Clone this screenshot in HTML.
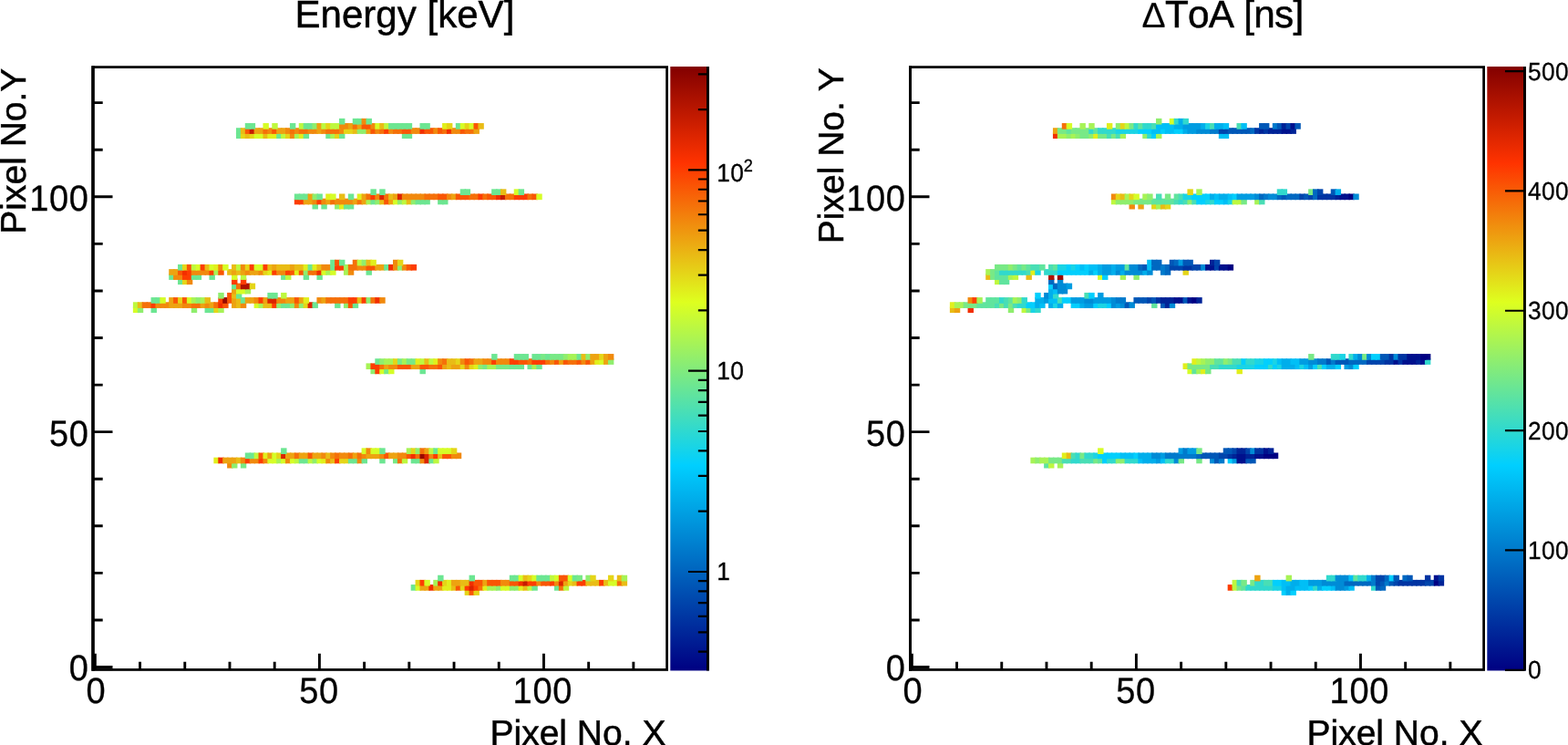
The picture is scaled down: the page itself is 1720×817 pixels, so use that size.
<!DOCTYPE html>
<html lang="en">
<head>
<meta charset="utf-8">
<title>Energy [keV] and ΔToA [ns] pixel maps</title>
<style>
html,body{margin:0;padding:0;background:#fff;}
body{width:1720px;height:817px;overflow:hidden;}
svg{display:block;position:absolute;left:0;top:0;}
text{font-family:"Liberation Sans",Arial,Helvetica,sans-serif;fill:#000;font-kerning:none;text-rendering:geometricPrecision;stroke:#000;stroke-width:0.3px;}
.b{stroke-width:0.5px;}
</style>
</head>
<body>
<svg width="1720" height="817" viewBox="0 0 1720 817">
<rect width="1720" height="817" fill="#fff"/>
<g>
<rect x="509.64" y="646.23" width="6.42" height="6.66" fill="#e5d518"/>
<rect x="514.56" y="646.23" width="6.42" height="6.66" fill="#f95605"/>
<rect x="519.48" y="646.23" width="6.42" height="6.66" fill="#e5d518"/>
<rect x="450.66" y="641.07" width="6.42" height="6.66" fill="#6ce692"/>
<rect x="455.57" y="641.07" width="6.42" height="6.66" fill="#d6fd27"/>
<rect x="460.49" y="641.07" width="6.42" height="6.66" fill="#eda311"/>
<rect x="465.4" y="641.07" width="6.42" height="6.66" fill="#eda311"/>
<rect x="470.32" y="641.07" width="6.42" height="6.66" fill="#f22e00"/>
<rect x="475.24" y="641.07" width="6.42" height="6.66" fill="#eda311"/>
<rect x="480.15" y="641.07" width="6.42" height="6.66" fill="#eda311"/>
<rect x="485.07" y="641.07" width="6.42" height="6.66" fill="#e1ef1c"/>
<rect x="489.98" y="641.07" width="6.42" height="6.66" fill="#e1ef1c"/>
<rect x="494.9" y="641.07" width="6.42" height="6.66" fill="#e9bc15"/>
<rect x="499.81" y="641.07" width="6.42" height="6.66" fill="#f95605"/>
<rect x="504.73" y="641.07" width="6.42" height="6.66" fill="#e5d518"/>
<rect x="509.64" y="641.07" width="6.42" height="6.66" fill="#fd3d02"/>
<rect x="514.56" y="641.07" width="6.42" height="6.66" fill="#db2400"/>
<rect x="519.48" y="641.07" width="6.42" height="6.66" fill="#fd3d02"/>
<rect x="524.39" y="641.07" width="6.42" height="6.66" fill="#f57009"/>
<rect x="529.31" y="641.07" width="6.42" height="6.66" fill="#e1ef1c"/>
<rect x="534.22" y="641.07" width="6.42" height="6.66" fill="#a7f356"/>
<rect x="539.14" y="641.07" width="6.42" height="6.66" fill="#a7f356"/>
<rect x="544.05" y="641.07" width="6.42" height="6.66" fill="#8fee6e"/>
<rect x="548.97" y="641.07" width="6.42" height="6.66" fill="#d6fd27"/>
<rect x="553.89" y="641.07" width="6.42" height="6.66" fill="#d6fd27"/>
<rect x="558.8" y="641.07" width="6.42" height="6.66" fill="#8fee6e"/>
<rect x="563.72" y="641.07" width="6.42" height="6.66" fill="#8fee6e"/>
<rect x="568.63" y="641.07" width="6.42" height="6.66" fill="#e1ef1c"/>
<rect x="573.55" y="641.07" width="6.42" height="6.66" fill="#e9bc15"/>
<rect x="578.46" y="641.07" width="6.42" height="6.66" fill="#bef83f"/>
<rect x="583.38" y="641.07" width="6.42" height="6.66" fill="#6ce692"/>
<rect x="607.96" y="641.07" width="6.42" height="6.66" fill="#6ce692"/>
<rect x="612.87" y="641.07" width="6.42" height="6.66" fill="#f57009"/>
<rect x="617.79" y="641.07" width="6.42" height="6.66" fill="#bef83f"/>
<rect x="455.57" y="635.9" width="6.42" height="6.66" fill="#e5d518"/>
<rect x="460.49" y="635.9" width="6.42" height="6.66" fill="#fd3d02"/>
<rect x="465.4" y="635.9" width="6.42" height="6.66" fill="#d6fd27"/>
<rect x="475.24" y="635.9" width="6.42" height="6.66" fill="#a7f356"/>
<rect x="480.15" y="635.9" width="6.42" height="6.66" fill="#f22e00"/>
<rect x="485.07" y="635.9" width="6.42" height="6.66" fill="#e5d518"/>
<rect x="489.98" y="635.9" width="6.42" height="6.66" fill="#e1ef1c"/>
<rect x="494.9" y="635.9" width="6.42" height="6.66" fill="#eda311"/>
<rect x="499.81" y="635.9" width="6.42" height="6.66" fill="#eda311"/>
<rect x="504.73" y="635.9" width="6.42" height="6.66" fill="#e9bc15"/>
<rect x="509.64" y="635.9" width="6.42" height="6.66" fill="#e9bc15"/>
<rect x="514.56" y="635.9" width="6.42" height="6.66" fill="#f22e00"/>
<rect x="519.48" y="635.9" width="6.42" height="6.66" fill="#f95605"/>
<rect x="524.39" y="635.9" width="6.42" height="6.66" fill="#f95605"/>
<rect x="529.31" y="635.9" width="6.42" height="6.66" fill="#eda311"/>
<rect x="534.22" y="635.9" width="6.42" height="6.66" fill="#f95605"/>
<rect x="539.14" y="635.9" width="6.42" height="6.66" fill="#f95605"/>
<rect x="544.05" y="635.9" width="6.42" height="6.66" fill="#f95605"/>
<rect x="548.97" y="635.9" width="6.42" height="6.66" fill="#f1890d"/>
<rect x="553.89" y="635.9" width="6.42" height="6.66" fill="#f1890d"/>
<rect x="558.8" y="635.9" width="6.42" height="6.66" fill="#f95605"/>
<rect x="563.72" y="635.9" width="6.42" height="6.66" fill="#f95605"/>
<rect x="568.63" y="635.9" width="6.42" height="6.66" fill="#f22e00"/>
<rect x="573.55" y="635.9" width="6.42" height="6.66" fill="#c51b00"/>
<rect x="578.46" y="635.9" width="6.42" height="6.66" fill="#fd3d02"/>
<rect x="583.38" y="635.9" width="6.42" height="6.66" fill="#fd3d02"/>
<rect x="588.29" y="635.9" width="6.42" height="6.66" fill="#f1890d"/>
<rect x="593.21" y="635.9" width="6.42" height="6.66" fill="#f95605"/>
<rect x="598.13" y="635.9" width="6.42" height="6.66" fill="#f95605"/>
<rect x="603.04" y="635.9" width="6.42" height="6.66" fill="#fd3d02"/>
<rect x="607.96" y="635.9" width="6.42" height="6.66" fill="#f1890d"/>
<rect x="612.87" y="635.9" width="6.42" height="6.66" fill="#db2400"/>
<rect x="617.79" y="635.9" width="6.42" height="6.66" fill="#eda311"/>
<rect x="622.7" y="635.9" width="6.42" height="6.66" fill="#e5d518"/>
<rect x="627.62" y="635.9" width="6.42" height="6.66" fill="#e9bc15"/>
<rect x="632.53" y="635.9" width="6.42" height="6.66" fill="#fd3d02"/>
<rect x="637.45" y="635.9" width="6.42" height="6.66" fill="#fd3d02"/>
<rect x="642.37" y="635.9" width="6.42" height="6.66" fill="#e9bc15"/>
<rect x="647.28" y="635.9" width="6.42" height="6.66" fill="#e9bc15"/>
<rect x="652.2" y="635.9" width="6.42" height="6.66" fill="#e9bc15"/>
<rect x="657.11" y="635.9" width="6.42" height="6.66" fill="#fd3d02"/>
<rect x="662.03" y="635.9" width="6.42" height="6.66" fill="#e9bc15"/>
<rect x="666.94" y="635.9" width="6.42" height="6.66" fill="#d6fd27"/>
<rect x="671.86" y="635.9" width="6.42" height="6.66" fill="#d6fd27"/>
<rect x="676.78" y="635.9" width="6.42" height="6.66" fill="#f57009"/>
<rect x="681.69" y="635.9" width="6.42" height="6.66" fill="#e9bc15"/>
<rect x="480.15" y="630.74" width="6.42" height="6.66" fill="#6ce692"/>
<rect x="514.56" y="630.74" width="6.42" height="6.66" fill="#6ce692"/>
<rect x="558.8" y="630.74" width="6.42" height="6.66" fill="#6ce692"/>
<rect x="563.72" y="630.74" width="6.42" height="6.66" fill="#6ce692"/>
<rect x="568.63" y="630.74" width="6.42" height="6.66" fill="#d6fd27"/>
<rect x="573.55" y="630.74" width="6.42" height="6.66" fill="#e9bc15"/>
<rect x="578.46" y="630.74" width="6.42" height="6.66" fill="#e5d518"/>
<rect x="583.38" y="630.74" width="6.42" height="6.66" fill="#d6fd27"/>
<rect x="588.29" y="630.74" width="6.42" height="6.66" fill="#6ce692"/>
<rect x="593.21" y="630.74" width="6.42" height="6.66" fill="#6ce692"/>
<rect x="598.13" y="630.74" width="6.42" height="6.66" fill="#6ce692"/>
<rect x="603.04" y="630.74" width="6.42" height="6.66" fill="#bef83f"/>
<rect x="607.96" y="630.74" width="6.42" height="6.66" fill="#d6fd27"/>
<rect x="612.87" y="630.74" width="6.42" height="6.66" fill="#f95605"/>
<rect x="617.79" y="630.74" width="6.42" height="6.66" fill="#f95605"/>
<rect x="622.7" y="630.74" width="6.42" height="6.66" fill="#d6fd27"/>
<rect x="627.62" y="630.74" width="6.42" height="6.66" fill="#6ce692"/>
<rect x="632.53" y="630.74" width="6.42" height="6.66" fill="#78e986"/>
<rect x="642.37" y="630.74" width="6.42" height="6.66" fill="#8fee6e"/>
<rect x="647.28" y="630.74" width="6.42" height="6.66" fill="#e5d518"/>
<rect x="666.94" y="630.74" width="6.42" height="6.66" fill="#e5d518"/>
<rect x="676.78" y="630.74" width="6.42" height="6.66" fill="#e9bc15"/>
<rect x="681.69" y="630.74" width="6.42" height="6.66" fill="#a7f356"/>
<rect x="249.12" y="506.82" width="6.42" height="6.66" fill="#f1890d"/>
<rect x="254.03" y="506.82" width="6.42" height="6.66" fill="#8fee6e"/>
<rect x="263.86" y="506.82" width="6.42" height="6.66" fill="#78e986"/>
<rect x="234.37" y="501.65" width="6.42" height="6.66" fill="#e1ef1c"/>
<rect x="239.29" y="501.65" width="6.42" height="6.66" fill="#f22e00"/>
<rect x="244.2" y="501.65" width="6.42" height="6.66" fill="#eda311"/>
<rect x="249.12" y="501.65" width="6.42" height="6.66" fill="#eda311"/>
<rect x="254.03" y="501.65" width="6.42" height="6.66" fill="#eda311"/>
<rect x="258.95" y="501.65" width="6.42" height="6.66" fill="#e9bc15"/>
<rect x="263.86" y="501.65" width="6.42" height="6.66" fill="#f1890d"/>
<rect x="268.78" y="501.65" width="6.42" height="6.66" fill="#fd3d02"/>
<rect x="273.7" y="501.65" width="6.42" height="6.66" fill="#f1890d"/>
<rect x="278.61" y="501.65" width="6.42" height="6.66" fill="#f1890d"/>
<rect x="283.53" y="501.65" width="6.42" height="6.66" fill="#fd3d02"/>
<rect x="288.44" y="501.65" width="6.42" height="6.66" fill="#f1890d"/>
<rect x="293.36" y="501.65" width="6.42" height="6.66" fill="#d6fd27"/>
<rect x="298.27" y="501.65" width="6.42" height="6.66" fill="#d6fd27"/>
<rect x="303.19" y="501.65" width="6.42" height="6.66" fill="#a7f356"/>
<rect x="308.11" y="501.65" width="6.42" height="6.66" fill="#d6fd27"/>
<rect x="313.02" y="501.65" width="6.42" height="6.66" fill="#f1890d"/>
<rect x="317.94" y="501.65" width="6.42" height="6.66" fill="#d6fd27"/>
<rect x="322.85" y="501.65" width="6.42" height="6.66" fill="#bef83f"/>
<rect x="327.77" y="501.65" width="6.42" height="6.66" fill="#6ce692"/>
<rect x="332.68" y="501.65" width="6.42" height="6.66" fill="#6ce692"/>
<rect x="337.6" y="501.65" width="6.42" height="6.66" fill="#bef83f"/>
<rect x="342.51" y="501.65" width="6.42" height="6.66" fill="#8fee6e"/>
<rect x="347.43" y="501.65" width="6.42" height="6.66" fill="#d6fd27"/>
<rect x="352.35" y="501.65" width="6.42" height="6.66" fill="#e1ef1c"/>
<rect x="357.26" y="501.65" width="6.42" height="6.66" fill="#f1890d"/>
<rect x="362.18" y="501.65" width="6.42" height="6.66" fill="#e9bc15"/>
<rect x="367.09" y="501.65" width="6.42" height="6.66" fill="#fd3d02"/>
<rect x="372.01" y="501.65" width="6.42" height="6.66" fill="#e5d518"/>
<rect x="376.92" y="501.65" width="6.42" height="6.66" fill="#e5d518"/>
<rect x="381.84" y="501.65" width="6.42" height="6.66" fill="#6ce692"/>
<rect x="386.75" y="501.65" width="6.42" height="6.66" fill="#6ce692"/>
<rect x="391.67" y="501.65" width="6.42" height="6.66" fill="#f1890d"/>
<rect x="396.59" y="501.65" width="6.42" height="6.66" fill="#6ce692"/>
<rect x="416.25" y="501.65" width="6.42" height="6.66" fill="#6ce692"/>
<rect x="431" y="501.65" width="6.42" height="6.66" fill="#78e986"/>
<rect x="435.91" y="501.65" width="6.42" height="6.66" fill="#f57009"/>
<rect x="440.83" y="501.65" width="6.42" height="6.66" fill="#bef83f"/>
<rect x="450.66" y="501.65" width="6.42" height="6.66" fill="#6ce692"/>
<rect x="455.57" y="501.65" width="6.42" height="6.66" fill="#6ce692"/>
<rect x="460.49" y="501.65" width="6.42" height="6.66" fill="#f1890d"/>
<rect x="465.4" y="501.65" width="6.42" height="6.66" fill="#db2400"/>
<rect x="470.32" y="501.65" width="6.42" height="6.66" fill="#6ce692"/>
<rect x="475.24" y="501.65" width="6.42" height="6.66" fill="#bef83f"/>
<rect x="268.78" y="496.49" width="6.42" height="6.66" fill="#6ce692"/>
<rect x="273.7" y="496.49" width="6.42" height="6.66" fill="#6ce692"/>
<rect x="278.61" y="496.49" width="6.42" height="6.66" fill="#bef83f"/>
<rect x="283.53" y="496.49" width="6.42" height="6.66" fill="#f95605"/>
<rect x="288.44" y="496.49" width="6.42" height="6.66" fill="#e1ef1c"/>
<rect x="293.36" y="496.49" width="6.42" height="6.66" fill="#eda311"/>
<rect x="298.27" y="496.49" width="6.42" height="6.66" fill="#d6fd27"/>
<rect x="303.19" y="496.49" width="6.42" height="6.66" fill="#e5d518"/>
<rect x="308.11" y="496.49" width="6.42" height="6.66" fill="#db2400"/>
<rect x="313.02" y="496.49" width="6.42" height="6.66" fill="#eda311"/>
<rect x="317.94" y="496.49" width="6.42" height="6.66" fill="#eda311"/>
<rect x="322.85" y="496.49" width="6.42" height="6.66" fill="#f57009"/>
<rect x="327.77" y="496.49" width="6.42" height="6.66" fill="#eda311"/>
<rect x="332.68" y="496.49" width="6.42" height="6.66" fill="#eda311"/>
<rect x="337.6" y="496.49" width="6.42" height="6.66" fill="#f95605"/>
<rect x="342.51" y="496.49" width="6.42" height="6.66" fill="#eda311"/>
<rect x="347.43" y="496.49" width="6.42" height="6.66" fill="#eda311"/>
<rect x="352.35" y="496.49" width="6.42" height="6.66" fill="#f1890d"/>
<rect x="357.26" y="496.49" width="6.42" height="6.66" fill="#e9bc15"/>
<rect x="362.18" y="496.49" width="6.42" height="6.66" fill="#f1890d"/>
<rect x="367.09" y="496.49" width="6.42" height="6.66" fill="#f57009"/>
<rect x="372.01" y="496.49" width="6.42" height="6.66" fill="#f1890d"/>
<rect x="376.92" y="496.49" width="6.42" height="6.66" fill="#f1890d"/>
<rect x="381.84" y="496.49" width="6.42" height="6.66" fill="#f57009"/>
<rect x="386.75" y="496.49" width="6.42" height="6.66" fill="#eda311"/>
<rect x="391.67" y="496.49" width="6.42" height="6.66" fill="#f57009"/>
<rect x="396.59" y="496.49" width="6.42" height="6.66" fill="#f1890d"/>
<rect x="401.5" y="496.49" width="6.42" height="6.66" fill="#eda311"/>
<rect x="406.42" y="496.49" width="6.42" height="6.66" fill="#eda311"/>
<rect x="411.33" y="496.49" width="6.42" height="6.66" fill="#eda311"/>
<rect x="416.25" y="496.49" width="6.42" height="6.66" fill="#f1890d"/>
<rect x="421.16" y="496.49" width="6.42" height="6.66" fill="#f95605"/>
<rect x="426.08" y="496.49" width="6.42" height="6.66" fill="#eda311"/>
<rect x="431" y="496.49" width="6.42" height="6.66" fill="#eda311"/>
<rect x="435.91" y="496.49" width="6.42" height="6.66" fill="#f1890d"/>
<rect x="440.83" y="496.49" width="6.42" height="6.66" fill="#f1890d"/>
<rect x="445.74" y="496.49" width="6.42" height="6.66" fill="#f95605"/>
<rect x="450.66" y="496.49" width="6.42" height="6.66" fill="#f22e00"/>
<rect x="455.57" y="496.49" width="6.42" height="6.66" fill="#f57009"/>
<rect x="460.49" y="496.49" width="6.42" height="6.66" fill="#980900"/>
<rect x="465.4" y="496.49" width="6.42" height="6.66" fill="#db2400"/>
<rect x="470.32" y="496.49" width="6.42" height="6.66" fill="#f1890d"/>
<rect x="475.24" y="496.49" width="6.42" height="6.66" fill="#fd3d02"/>
<rect x="480.15" y="496.49" width="6.42" height="6.66" fill="#e9bc15"/>
<rect x="485.07" y="496.49" width="6.42" height="6.66" fill="#f95605"/>
<rect x="489.98" y="496.49" width="6.42" height="6.66" fill="#f95605"/>
<rect x="494.9" y="496.49" width="6.42" height="6.66" fill="#f1890d"/>
<rect x="499.81" y="496.49" width="6.42" height="6.66" fill="#f1890d"/>
<rect x="308.11" y="491.33" width="6.42" height="6.66" fill="#6ce692"/>
<rect x="396.59" y="491.33" width="6.42" height="6.66" fill="#d6fd27"/>
<rect x="401.5" y="491.33" width="6.42" height="6.66" fill="#f1890d"/>
<rect x="406.42" y="491.33" width="6.42" height="6.66" fill="#d6fd27"/>
<rect x="411.33" y="491.33" width="6.42" height="6.66" fill="#d6fd27"/>
<rect x="416.25" y="491.33" width="6.42" height="6.66" fill="#6ce692"/>
<rect x="445.74" y="491.33" width="6.42" height="6.66" fill="#a7f356"/>
<rect x="450.66" y="491.33" width="6.42" height="6.66" fill="#e5d518"/>
<rect x="455.57" y="491.33" width="6.42" height="6.66" fill="#8fee6e"/>
<rect x="460.49" y="491.33" width="6.42" height="6.66" fill="#f57009"/>
<rect x="465.4" y="491.33" width="6.42" height="6.66" fill="#eda311"/>
<rect x="470.32" y="491.33" width="6.42" height="6.66" fill="#bef83f"/>
<rect x="475.24" y="491.33" width="6.42" height="6.66" fill="#6ce692"/>
<rect x="480.15" y="491.33" width="6.42" height="6.66" fill="#d6fd27"/>
<rect x="485.07" y="491.33" width="6.42" height="6.66" fill="#d6fd27"/>
<rect x="489.98" y="491.33" width="6.42" height="6.66" fill="#d6fd27"/>
<rect x="494.9" y="491.33" width="6.42" height="6.66" fill="#e5d518"/>
<rect x="406.42" y="403.55" width="6.42" height="6.66" fill="#8fee6e"/>
<rect x="411.33" y="403.55" width="6.42" height="6.66" fill="#fd3d02"/>
<rect x="416.25" y="403.55" width="6.42" height="6.66" fill="#d6fd27"/>
<rect x="421.16" y="403.55" width="6.42" height="6.66" fill="#78e986"/>
<rect x="426.08" y="403.55" width="6.42" height="6.66" fill="#d6fd27"/>
<rect x="460.49" y="403.55" width="6.42" height="6.66" fill="#6ce692"/>
<rect x="401.5" y="398.38" width="6.42" height="6.66" fill="#a7f356"/>
<rect x="406.42" y="398.38" width="6.42" height="6.66" fill="#fd3d02"/>
<rect x="411.33" y="398.38" width="6.42" height="6.66" fill="#fd3d02"/>
<rect x="416.25" y="398.38" width="6.42" height="6.66" fill="#f57009"/>
<rect x="421.16" y="398.38" width="6.42" height="6.66" fill="#eda311"/>
<rect x="426.08" y="398.38" width="6.42" height="6.66" fill="#f1890d"/>
<rect x="431" y="398.38" width="6.42" height="6.66" fill="#f1890d"/>
<rect x="435.91" y="398.38" width="6.42" height="6.66" fill="#f95605"/>
<rect x="440.83" y="398.38" width="6.42" height="6.66" fill="#f95605"/>
<rect x="445.74" y="398.38" width="6.42" height="6.66" fill="#f95605"/>
<rect x="450.66" y="398.38" width="6.42" height="6.66" fill="#eda311"/>
<rect x="455.57" y="398.38" width="6.42" height="6.66" fill="#eda311"/>
<rect x="460.49" y="398.38" width="6.42" height="6.66" fill="#f95605"/>
<rect x="465.4" y="398.38" width="6.42" height="6.66" fill="#f95605"/>
<rect x="470.32" y="398.38" width="6.42" height="6.66" fill="#f57009"/>
<rect x="475.24" y="398.38" width="6.42" height="6.66" fill="#f57009"/>
<rect x="480.15" y="398.38" width="6.42" height="6.66" fill="#f95605"/>
<rect x="485.07" y="398.38" width="6.42" height="6.66" fill="#eda311"/>
<rect x="489.98" y="398.38" width="6.42" height="6.66" fill="#e9bc15"/>
<rect x="494.9" y="398.38" width="6.42" height="6.66" fill="#eda311"/>
<rect x="499.81" y="398.38" width="6.42" height="6.66" fill="#eda311"/>
<rect x="504.73" y="398.38" width="6.42" height="6.66" fill="#e5d518"/>
<rect x="509.64" y="398.38" width="6.42" height="6.66" fill="#f1890d"/>
<rect x="514.56" y="398.38" width="6.42" height="6.66" fill="#e5d518"/>
<rect x="519.48" y="398.38" width="6.42" height="6.66" fill="#e1ef1c"/>
<rect x="524.39" y="398.38" width="6.42" height="6.66" fill="#8fee6e"/>
<rect x="529.31" y="398.38" width="6.42" height="6.66" fill="#78e986"/>
<rect x="534.22" y="398.38" width="6.42" height="6.66" fill="#a7f356"/>
<rect x="539.14" y="398.38" width="6.42" height="6.66" fill="#a7f356"/>
<rect x="544.05" y="398.38" width="6.42" height="6.66" fill="#78e986"/>
<rect x="548.97" y="398.38" width="6.42" height="6.66" fill="#78e986"/>
<rect x="553.89" y="398.38" width="6.42" height="6.66" fill="#78e986"/>
<rect x="558.8" y="398.38" width="6.42" height="6.66" fill="#6ce692"/>
<rect x="563.72" y="398.38" width="6.42" height="6.66" fill="#6ce692"/>
<rect x="568.63" y="398.38" width="6.42" height="6.66" fill="#6ce692"/>
<rect x="578.46" y="398.38" width="6.42" height="6.66" fill="#6ce692"/>
<rect x="583.38" y="398.38" width="6.42" height="6.66" fill="#a7f356"/>
<rect x="588.29" y="398.38" width="6.42" height="6.66" fill="#6ce692"/>
<rect x="411.33" y="393.22" width="6.42" height="6.66" fill="#6ce692"/>
<rect x="416.25" y="393.22" width="6.42" height="6.66" fill="#8fee6e"/>
<rect x="421.16" y="393.22" width="6.42" height="6.66" fill="#a7f356"/>
<rect x="426.08" y="393.22" width="6.42" height="6.66" fill="#a7f356"/>
<rect x="431" y="393.22" width="6.42" height="6.66" fill="#e5d518"/>
<rect x="435.91" y="393.22" width="6.42" height="6.66" fill="#78e986"/>
<rect x="440.83" y="393.22" width="6.42" height="6.66" fill="#a7f356"/>
<rect x="445.74" y="393.22" width="6.42" height="6.66" fill="#78e986"/>
<rect x="450.66" y="393.22" width="6.42" height="6.66" fill="#78e986"/>
<rect x="455.57" y="393.22" width="6.42" height="6.66" fill="#e1ef1c"/>
<rect x="460.49" y="393.22" width="6.42" height="6.66" fill="#bef83f"/>
<rect x="465.4" y="393.22" width="6.42" height="6.66" fill="#e9bc15"/>
<rect x="470.32" y="393.22" width="6.42" height="6.66" fill="#bef83f"/>
<rect x="475.24" y="393.22" width="6.42" height="6.66" fill="#e1ef1c"/>
<rect x="480.15" y="393.22" width="6.42" height="6.66" fill="#f1890d"/>
<rect x="485.07" y="393.22" width="6.42" height="6.66" fill="#f57009"/>
<rect x="489.98" y="393.22" width="6.42" height="6.66" fill="#e9bc15"/>
<rect x="494.9" y="393.22" width="6.42" height="6.66" fill="#e9bc15"/>
<rect x="499.81" y="393.22" width="6.42" height="6.66" fill="#e5d518"/>
<rect x="504.73" y="393.22" width="6.42" height="6.66" fill="#f1890d"/>
<rect x="509.64" y="393.22" width="6.42" height="6.66" fill="#f95605"/>
<rect x="514.56" y="393.22" width="6.42" height="6.66" fill="#f57009"/>
<rect x="519.48" y="393.22" width="6.42" height="6.66" fill="#eda311"/>
<rect x="524.39" y="393.22" width="6.42" height="6.66" fill="#eda311"/>
<rect x="529.31" y="393.22" width="6.42" height="6.66" fill="#f1890d"/>
<rect x="534.22" y="393.22" width="6.42" height="6.66" fill="#f1890d"/>
<rect x="539.14" y="393.22" width="6.42" height="6.66" fill="#fd3d02"/>
<rect x="544.05" y="393.22" width="6.42" height="6.66" fill="#f1890d"/>
<rect x="548.97" y="393.22" width="6.42" height="6.66" fill="#f1890d"/>
<rect x="553.89" y="393.22" width="6.42" height="6.66" fill="#f1890d"/>
<rect x="558.8" y="393.22" width="6.42" height="6.66" fill="#fd3d02"/>
<rect x="563.72" y="393.22" width="6.42" height="6.66" fill="#fd3d02"/>
<rect x="568.63" y="393.22" width="6.42" height="6.66" fill="#f95605"/>
<rect x="573.55" y="393.22" width="6.42" height="6.66" fill="#f95605"/>
<rect x="578.46" y="393.22" width="6.42" height="6.66" fill="#f57009"/>
<rect x="583.38" y="393.22" width="6.42" height="6.66" fill="#fd3d02"/>
<rect x="588.29" y="393.22" width="6.42" height="6.66" fill="#fd3d02"/>
<rect x="593.21" y="393.22" width="6.42" height="6.66" fill="#fd3d02"/>
<rect x="598.13" y="393.22" width="6.42" height="6.66" fill="#f57009"/>
<rect x="603.04" y="393.22" width="6.42" height="6.66" fill="#f1890d"/>
<rect x="607.96" y="393.22" width="6.42" height="6.66" fill="#f95605"/>
<rect x="612.87" y="393.22" width="6.42" height="6.66" fill="#eda311"/>
<rect x="617.79" y="393.22" width="6.42" height="6.66" fill="#f95605"/>
<rect x="622.7" y="393.22" width="6.42" height="6.66" fill="#f57009"/>
<rect x="627.62" y="393.22" width="6.42" height="6.66" fill="#f57009"/>
<rect x="632.53" y="393.22" width="6.42" height="6.66" fill="#f95605"/>
<rect x="637.45" y="393.22" width="6.42" height="6.66" fill="#f1890d"/>
<rect x="642.37" y="393.22" width="6.42" height="6.66" fill="#f95605"/>
<rect x="647.28" y="393.22" width="6.42" height="6.66" fill="#eda311"/>
<rect x="652.2" y="393.22" width="6.42" height="6.66" fill="#e1ef1c"/>
<rect x="657.11" y="393.22" width="6.42" height="6.66" fill="#d6fd27"/>
<rect x="662.03" y="393.22" width="6.42" height="6.66" fill="#eda311"/>
<rect x="666.94" y="393.22" width="6.42" height="6.66" fill="#8fee6e"/>
<rect x="539.14" y="388.06" width="6.42" height="6.66" fill="#6ce692"/>
<rect x="563.72" y="388.06" width="6.42" height="6.66" fill="#6ce692"/>
<rect x="568.63" y="388.06" width="6.42" height="6.66" fill="#6ce692"/>
<rect x="573.55" y="388.06" width="6.42" height="6.66" fill="#6ce692"/>
<rect x="583.38" y="388.06" width="6.42" height="6.66" fill="#6ce692"/>
<rect x="588.29" y="388.06" width="6.42" height="6.66" fill="#6ce692"/>
<rect x="593.21" y="388.06" width="6.42" height="6.66" fill="#78e986"/>
<rect x="598.13" y="388.06" width="6.42" height="6.66" fill="#6ce692"/>
<rect x="603.04" y="388.06" width="6.42" height="6.66" fill="#78e986"/>
<rect x="607.96" y="388.06" width="6.42" height="6.66" fill="#78e986"/>
<rect x="612.87" y="388.06" width="6.42" height="6.66" fill="#78e986"/>
<rect x="617.79" y="388.06" width="6.42" height="6.66" fill="#8fee6e"/>
<rect x="622.7" y="388.06" width="6.42" height="6.66" fill="#a7f356"/>
<rect x="627.62" y="388.06" width="6.42" height="6.66" fill="#a7f356"/>
<rect x="632.53" y="388.06" width="6.42" height="6.66" fill="#6ce692"/>
<rect x="637.45" y="388.06" width="6.42" height="6.66" fill="#e9bc15"/>
<rect x="642.37" y="388.06" width="6.42" height="6.66" fill="#8fee6e"/>
<rect x="647.28" y="388.06" width="6.42" height="6.66" fill="#eda311"/>
<rect x="652.2" y="388.06" width="6.42" height="6.66" fill="#eda311"/>
<rect x="657.11" y="388.06" width="6.42" height="6.66" fill="#e5d518"/>
<rect x="662.03" y="388.06" width="6.42" height="6.66" fill="#eda311"/>
<rect x="666.94" y="388.06" width="6.42" height="6.66" fill="#f1890d"/>
<rect x="145.89" y="336.42" width="6.42" height="6.66" fill="#d6fd27"/>
<rect x="150.81" y="336.42" width="6.42" height="6.66" fill="#8fee6e"/>
<rect x="165.55" y="336.42" width="6.42" height="6.66" fill="#6ce692"/>
<rect x="209.79" y="336.42" width="6.42" height="6.66" fill="#8fee6e"/>
<rect x="224.54" y="336.42" width="6.42" height="6.66" fill="#6ce692"/>
<rect x="229.46" y="336.42" width="6.42" height="6.66" fill="#6ce692"/>
<rect x="234.37" y="336.42" width="6.42" height="6.66" fill="#e5d518"/>
<rect x="239.29" y="336.42" width="6.42" height="6.66" fill="#a7f356"/>
<rect x="145.89" y="331.26" width="6.42" height="6.66" fill="#bef83f"/>
<rect x="150.81" y="331.26" width="6.42" height="6.66" fill="#e9bc15"/>
<rect x="155.72" y="331.26" width="6.42" height="6.66" fill="#f57009"/>
<rect x="160.64" y="331.26" width="6.42" height="6.66" fill="#f57009"/>
<rect x="165.55" y="331.26" width="6.42" height="6.66" fill="#fd3d02"/>
<rect x="170.47" y="331.26" width="6.42" height="6.66" fill="#f1890d"/>
<rect x="175.38" y="331.26" width="6.42" height="6.66" fill="#f1890d"/>
<rect x="180.3" y="331.26" width="6.42" height="6.66" fill="#f1890d"/>
<rect x="185.22" y="331.26" width="6.42" height="6.66" fill="#eda311"/>
<rect x="190.13" y="331.26" width="6.42" height="6.66" fill="#eda311"/>
<rect x="195.05" y="331.26" width="6.42" height="6.66" fill="#eda311"/>
<rect x="199.96" y="331.26" width="6.42" height="6.66" fill="#f1890d"/>
<rect x="204.88" y="331.26" width="6.42" height="6.66" fill="#f1890d"/>
<rect x="209.79" y="331.26" width="6.42" height="6.66" fill="#f57009"/>
<rect x="214.71" y="331.26" width="6.42" height="6.66" fill="#f57009"/>
<rect x="219.62" y="331.26" width="6.42" height="6.66" fill="#eda311"/>
<rect x="224.54" y="331.26" width="6.42" height="6.66" fill="#f1890d"/>
<rect x="229.46" y="331.26" width="6.42" height="6.66" fill="#eda311"/>
<rect x="234.37" y="331.26" width="6.42" height="6.66" fill="#f57009"/>
<rect x="239.29" y="331.26" width="6.42" height="6.66" fill="#f22e00"/>
<rect x="244.2" y="331.26" width="6.42" height="6.66" fill="#f95605"/>
<rect x="254.03" y="331.26" width="6.42" height="6.66" fill="#eda311"/>
<rect x="258.95" y="331.26" width="6.42" height="6.66" fill="#e9bc15"/>
<rect x="263.86" y="331.26" width="6.42" height="6.66" fill="#f1890d"/>
<rect x="278.61" y="331.26" width="6.42" height="6.66" fill="#d6fd27"/>
<rect x="283.53" y="331.26" width="6.42" height="6.66" fill="#a7f356"/>
<rect x="288.44" y="331.26" width="6.42" height="6.66" fill="#e9bc15"/>
<rect x="293.36" y="331.26" width="6.42" height="6.66" fill="#e9bc15"/>
<rect x="298.27" y="331.26" width="6.42" height="6.66" fill="#fd3d02"/>
<rect x="303.19" y="331.26" width="6.42" height="6.66" fill="#8fee6e"/>
<rect x="308.11" y="331.26" width="6.42" height="6.66" fill="#6ce692"/>
<rect x="313.02" y="331.26" width="6.42" height="6.66" fill="#6ce692"/>
<rect x="317.94" y="331.26" width="6.42" height="6.66" fill="#8fee6e"/>
<rect x="322.85" y="331.26" width="6.42" height="6.66" fill="#f1890d"/>
<rect x="327.77" y="331.26" width="6.42" height="6.66" fill="#8fee6e"/>
<rect x="332.68" y="331.26" width="6.42" height="6.66" fill="#e5d518"/>
<rect x="337.6" y="331.26" width="6.42" height="6.66" fill="#db2400"/>
<rect x="342.51" y="331.26" width="6.42" height="6.66" fill="#6ce692"/>
<rect x="367.09" y="331.26" width="6.42" height="6.66" fill="#6ce692"/>
<rect x="376.92" y="331.26" width="6.42" height="6.66" fill="#8fee6e"/>
<rect x="381.84" y="331.26" width="6.42" height="6.66" fill="#f95605"/>
<rect x="386.75" y="331.26" width="6.42" height="6.66" fill="#6ce692"/>
<rect x="165.55" y="326.09" width="6.42" height="6.66" fill="#6ce692"/>
<rect x="170.47" y="326.09" width="6.42" height="6.66" fill="#6ce692"/>
<rect x="175.38" y="326.09" width="6.42" height="6.66" fill="#d6fd27"/>
<rect x="185.22" y="326.09" width="6.42" height="6.66" fill="#eda311"/>
<rect x="190.13" y="326.09" width="6.42" height="6.66" fill="#f95605"/>
<rect x="195.05" y="326.09" width="6.42" height="6.66" fill="#e5d518"/>
<rect x="199.96" y="326.09" width="6.42" height="6.66" fill="#f95605"/>
<rect x="204.88" y="326.09" width="6.42" height="6.66" fill="#d6fd27"/>
<rect x="209.79" y="326.09" width="6.42" height="6.66" fill="#a7f356"/>
<rect x="214.71" y="326.09" width="6.42" height="6.66" fill="#8fee6e"/>
<rect x="219.62" y="326.09" width="6.42" height="6.66" fill="#a7f356"/>
<rect x="224.54" y="326.09" width="6.42" height="6.66" fill="#e9bc15"/>
<rect x="239.29" y="326.09" width="6.42" height="6.66" fill="#fd3d02"/>
<rect x="244.2" y="326.09" width="6.42" height="6.66" fill="#980900"/>
<rect x="249.12" y="326.09" width="6.42" height="6.66" fill="#f95605"/>
<rect x="254.03" y="326.09" width="6.42" height="6.66" fill="#eda311"/>
<rect x="258.95" y="326.09" width="6.42" height="6.66" fill="#e9bc15"/>
<rect x="263.86" y="326.09" width="6.42" height="6.66" fill="#6ce692"/>
<rect x="268.78" y="326.09" width="6.42" height="6.66" fill="#eda311"/>
<rect x="273.7" y="326.09" width="6.42" height="6.66" fill="#eda311"/>
<rect x="278.61" y="326.09" width="6.42" height="6.66" fill="#f1890d"/>
<rect x="283.53" y="326.09" width="6.42" height="6.66" fill="#fd3d02"/>
<rect x="288.44" y="326.09" width="6.42" height="6.66" fill="#eda311"/>
<rect x="293.36" y="326.09" width="6.42" height="6.66" fill="#db2400"/>
<rect x="298.27" y="326.09" width="6.42" height="6.66" fill="#db2400"/>
<rect x="303.19" y="326.09" width="6.42" height="6.66" fill="#f1890d"/>
<rect x="308.11" y="326.09" width="6.42" height="6.66" fill="#f1890d"/>
<rect x="313.02" y="326.09" width="6.42" height="6.66" fill="#eda311"/>
<rect x="317.94" y="326.09" width="6.42" height="6.66" fill="#eda311"/>
<rect x="322.85" y="326.09" width="6.42" height="6.66" fill="#f95605"/>
<rect x="327.77" y="326.09" width="6.42" height="6.66" fill="#eda311"/>
<rect x="332.68" y="326.09" width="6.42" height="6.66" fill="#e1ef1c"/>
<rect x="347.43" y="326.09" width="6.42" height="6.66" fill="#f1890d"/>
<rect x="352.35" y="326.09" width="6.42" height="6.66" fill="#eda311"/>
<rect x="357.26" y="326.09" width="6.42" height="6.66" fill="#f57009"/>
<rect x="362.18" y="326.09" width="6.42" height="6.66" fill="#f57009"/>
<rect x="367.09" y="326.09" width="6.42" height="6.66" fill="#f57009"/>
<rect x="372.01" y="326.09" width="6.42" height="6.66" fill="#f57009"/>
<rect x="376.92" y="326.09" width="6.42" height="6.66" fill="#f57009"/>
<rect x="381.84" y="326.09" width="6.42" height="6.66" fill="#fd3d02"/>
<rect x="386.75" y="326.09" width="6.42" height="6.66" fill="#fd3d02"/>
<rect x="391.67" y="326.09" width="6.42" height="6.66" fill="#e9bc15"/>
<rect x="396.59" y="326.09" width="6.42" height="6.66" fill="#fd3d02"/>
<rect x="401.5" y="326.09" width="6.42" height="6.66" fill="#8fee6e"/>
<rect x="406.42" y="326.09" width="6.42" height="6.66" fill="#f57009"/>
<rect x="411.33" y="326.09" width="6.42" height="6.66" fill="#f22e00"/>
<rect x="416.25" y="326.09" width="6.42" height="6.66" fill="#f1890d"/>
<rect x="239.29" y="320.93" width="6.42" height="6.66" fill="#8fee6e"/>
<rect x="249.12" y="320.93" width="6.42" height="6.66" fill="#f95605"/>
<rect x="254.03" y="320.93" width="6.42" height="6.66" fill="#e9bc15"/>
<rect x="258.95" y="320.93" width="6.42" height="6.66" fill="#6ce692"/>
<rect x="293.36" y="320.93" width="6.42" height="6.66" fill="#6ce692"/>
<rect x="298.27" y="320.93" width="6.42" height="6.66" fill="#6ce692"/>
<rect x="308.11" y="320.93" width="6.42" height="6.66" fill="#bef83f"/>
<rect x="254.03" y="315.77" width="6.42" height="6.66" fill="#eda311"/>
<rect x="258.95" y="315.77" width="6.42" height="6.66" fill="#d6fd27"/>
<rect x="263.86" y="315.77" width="6.42" height="6.66" fill="#d6fd27"/>
<rect x="268.78" y="315.77" width="6.42" height="6.66" fill="#a7f356"/>
<rect x="254.03" y="310.6" width="6.42" height="6.66" fill="#6ce692"/>
<rect x="258.95" y="310.6" width="6.42" height="6.66" fill="#f57009"/>
<rect x="263.86" y="310.6" width="6.42" height="6.66" fill="#af1200"/>
<rect x="268.78" y="310.6" width="6.42" height="6.66" fill="#af1200"/>
<rect x="273.7" y="310.6" width="6.42" height="6.66" fill="#e5d518"/>
<rect x="195.05" y="305.44" width="6.42" height="6.66" fill="#6ce692"/>
<rect x="199.96" y="305.44" width="6.42" height="6.66" fill="#e5d518"/>
<rect x="204.88" y="305.44" width="6.42" height="6.66" fill="#f1890d"/>
<rect x="254.03" y="305.44" width="6.42" height="6.66" fill="#fd3d02"/>
<rect x="263.86" y="305.44" width="6.42" height="6.66" fill="#fd3d02"/>
<rect x="185.22" y="300.28" width="6.42" height="6.66" fill="#6ce692"/>
<rect x="190.13" y="300.28" width="6.42" height="6.66" fill="#f1890d"/>
<rect x="195.05" y="300.28" width="6.42" height="6.66" fill="#f1890d"/>
<rect x="199.96" y="300.28" width="6.42" height="6.66" fill="#fd3d02"/>
<rect x="204.88" y="300.28" width="6.42" height="6.66" fill="#fd3d02"/>
<rect x="209.79" y="300.28" width="6.42" height="6.66" fill="#6ce692"/>
<rect x="214.71" y="300.28" width="6.42" height="6.66" fill="#6ce692"/>
<rect x="229.46" y="300.28" width="6.42" height="6.66" fill="#6ce692"/>
<rect x="254.03" y="300.28" width="6.42" height="6.66" fill="#d6fd27"/>
<rect x="263.86" y="300.28" width="6.42" height="6.66" fill="#bef83f"/>
<rect x="308.11" y="300.28" width="6.42" height="6.66" fill="#6ce692"/>
<rect x="313.02" y="300.28" width="6.42" height="6.66" fill="#bef83f"/>
<rect x="332.68" y="300.28" width="6.42" height="6.66" fill="#6ce692"/>
<rect x="347.43" y="300.28" width="6.42" height="6.66" fill="#6ce692"/>
<rect x="185.22" y="295.11" width="6.42" height="6.66" fill="#eda311"/>
<rect x="190.13" y="295.11" width="6.42" height="6.66" fill="#eda311"/>
<rect x="195.05" y="295.11" width="6.42" height="6.66" fill="#f95605"/>
<rect x="199.96" y="295.11" width="6.42" height="6.66" fill="#f22e00"/>
<rect x="204.88" y="295.11" width="6.42" height="6.66" fill="#fd3d02"/>
<rect x="209.79" y="295.11" width="6.42" height="6.66" fill="#f1890d"/>
<rect x="214.71" y="295.11" width="6.42" height="6.66" fill="#f1890d"/>
<rect x="219.62" y="295.11" width="6.42" height="6.66" fill="#f1890d"/>
<rect x="224.54" y="295.11" width="6.42" height="6.66" fill="#f1890d"/>
<rect x="229.46" y="295.11" width="6.42" height="6.66" fill="#fd3d02"/>
<rect x="234.37" y="295.11" width="6.42" height="6.66" fill="#a7f356"/>
<rect x="239.29" y="295.11" width="6.42" height="6.66" fill="#f95605"/>
<rect x="249.12" y="295.11" width="6.42" height="6.66" fill="#e9bc15"/>
<rect x="254.03" y="295.11" width="6.42" height="6.66" fill="#eda311"/>
<rect x="258.95" y="295.11" width="6.42" height="6.66" fill="#e9bc15"/>
<rect x="263.86" y="295.11" width="6.42" height="6.66" fill="#eda311"/>
<rect x="268.78" y="295.11" width="6.42" height="6.66" fill="#f1890d"/>
<rect x="273.7" y="295.11" width="6.42" height="6.66" fill="#eda311"/>
<rect x="278.61" y="295.11" width="6.42" height="6.66" fill="#eda311"/>
<rect x="283.53" y="295.11" width="6.42" height="6.66" fill="#f1890d"/>
<rect x="288.44" y="295.11" width="6.42" height="6.66" fill="#e5d518"/>
<rect x="293.36" y="295.11" width="6.42" height="6.66" fill="#e1ef1c"/>
<rect x="298.27" y="295.11" width="6.42" height="6.66" fill="#fd3d02"/>
<rect x="303.19" y="295.11" width="6.42" height="6.66" fill="#f1890d"/>
<rect x="308.11" y="295.11" width="6.42" height="6.66" fill="#f1890d"/>
<rect x="313.02" y="295.11" width="6.42" height="6.66" fill="#fd3d02"/>
<rect x="317.94" y="295.11" width="6.42" height="6.66" fill="#f95605"/>
<rect x="322.85" y="295.11" width="6.42" height="6.66" fill="#e1ef1c"/>
<rect x="327.77" y="295.11" width="6.42" height="6.66" fill="#f95605"/>
<rect x="332.68" y="295.11" width="6.42" height="6.66" fill="#8fee6e"/>
<rect x="337.6" y="295.11" width="6.42" height="6.66" fill="#f57009"/>
<rect x="342.51" y="295.11" width="6.42" height="6.66" fill="#f57009"/>
<rect x="347.43" y="295.11" width="6.42" height="6.66" fill="#f22e00"/>
<rect x="352.35" y="295.11" width="6.42" height="6.66" fill="#d6fd27"/>
<rect x="357.26" y="295.11" width="6.42" height="6.66" fill="#a7f356"/>
<rect x="362.18" y="295.11" width="6.42" height="6.66" fill="#d6fd27"/>
<rect x="376.92" y="295.11" width="6.42" height="6.66" fill="#a7f356"/>
<rect x="381.84" y="295.11" width="6.42" height="6.66" fill="#f1890d"/>
<rect x="401.5" y="295.11" width="6.42" height="6.66" fill="#6ce692"/>
<rect x="195.05" y="289.95" width="6.42" height="6.66" fill="#6ce692"/>
<rect x="199.96" y="289.95" width="6.42" height="6.66" fill="#e5d518"/>
<rect x="204.88" y="289.95" width="6.42" height="6.66" fill="#f95605"/>
<rect x="209.79" y="289.95" width="6.42" height="6.66" fill="#bef83f"/>
<rect x="214.71" y="289.95" width="6.42" height="6.66" fill="#d6fd27"/>
<rect x="219.62" y="289.95" width="6.42" height="6.66" fill="#fd3d02"/>
<rect x="224.54" y="289.95" width="6.42" height="6.66" fill="#e9bc15"/>
<rect x="229.46" y="289.95" width="6.42" height="6.66" fill="#d6fd27"/>
<rect x="234.37" y="289.95" width="6.42" height="6.66" fill="#e1ef1c"/>
<rect x="239.29" y="289.95" width="6.42" height="6.66" fill="#f1890d"/>
<rect x="244.2" y="289.95" width="6.42" height="6.66" fill="#d6fd27"/>
<rect x="254.03" y="289.95" width="6.42" height="6.66" fill="#e9bc15"/>
<rect x="258.95" y="289.95" width="6.42" height="6.66" fill="#bef83f"/>
<rect x="263.86" y="289.95" width="6.42" height="6.66" fill="#f1890d"/>
<rect x="268.78" y="289.95" width="6.42" height="6.66" fill="#e5d518"/>
<rect x="273.7" y="289.95" width="6.42" height="6.66" fill="#fd3d02"/>
<rect x="278.61" y="289.95" width="6.42" height="6.66" fill="#d6fd27"/>
<rect x="283.53" y="289.95" width="6.42" height="6.66" fill="#d6fd27"/>
<rect x="288.44" y="289.95" width="6.42" height="6.66" fill="#fd3d02"/>
<rect x="293.36" y="289.95" width="6.42" height="6.66" fill="#e9bc15"/>
<rect x="298.27" y="289.95" width="6.42" height="6.66" fill="#eda311"/>
<rect x="303.19" y="289.95" width="6.42" height="6.66" fill="#e9bc15"/>
<rect x="308.11" y="289.95" width="6.42" height="6.66" fill="#e9bc15"/>
<rect x="313.02" y="289.95" width="6.42" height="6.66" fill="#e9bc15"/>
<rect x="317.94" y="289.95" width="6.42" height="6.66" fill="#eda311"/>
<rect x="322.85" y="289.95" width="6.42" height="6.66" fill="#e9bc15"/>
<rect x="327.77" y="289.95" width="6.42" height="6.66" fill="#e9bc15"/>
<rect x="332.68" y="289.95" width="6.42" height="6.66" fill="#e1ef1c"/>
<rect x="337.6" y="289.95" width="6.42" height="6.66" fill="#6ce692"/>
<rect x="342.51" y="289.95" width="6.42" height="6.66" fill="#e1ef1c"/>
<rect x="347.43" y="289.95" width="6.42" height="6.66" fill="#e9bc15"/>
<rect x="352.35" y="289.95" width="6.42" height="6.66" fill="#f1890d"/>
<rect x="357.26" y="289.95" width="6.42" height="6.66" fill="#f1890d"/>
<rect x="362.18" y="289.95" width="6.42" height="6.66" fill="#6ce692"/>
<rect x="367.09" y="289.95" width="6.42" height="6.66" fill="#fd3d02"/>
<rect x="372.01" y="289.95" width="6.42" height="6.66" fill="#fd3d02"/>
<rect x="376.92" y="289.95" width="6.42" height="6.66" fill="#a7f356"/>
<rect x="381.84" y="289.95" width="6.42" height="6.66" fill="#f57009"/>
<rect x="386.75" y="289.95" width="6.42" height="6.66" fill="#f57009"/>
<rect x="391.67" y="289.95" width="6.42" height="6.66" fill="#f1890d"/>
<rect x="396.59" y="289.95" width="6.42" height="6.66" fill="#f1890d"/>
<rect x="401.5" y="289.95" width="6.42" height="6.66" fill="#f95605"/>
<rect x="406.42" y="289.95" width="6.42" height="6.66" fill="#f95605"/>
<rect x="411.33" y="289.95" width="6.42" height="6.66" fill="#eda311"/>
<rect x="416.25" y="289.95" width="6.42" height="6.66" fill="#eda311"/>
<rect x="421.16" y="289.95" width="6.42" height="6.66" fill="#6ce692"/>
<rect x="426.08" y="289.95" width="6.42" height="6.66" fill="#f22e00"/>
<rect x="431" y="289.95" width="6.42" height="6.66" fill="#f1890d"/>
<rect x="435.91" y="289.95" width="6.42" height="6.66" fill="#8fee6e"/>
<rect x="440.83" y="289.95" width="6.42" height="6.66" fill="#f1890d"/>
<rect x="445.74" y="289.95" width="6.42" height="6.66" fill="#f95605"/>
<rect x="450.66" y="289.95" width="6.42" height="6.66" fill="#fd3d02"/>
<rect x="362.18" y="284.79" width="6.42" height="6.66" fill="#6ce692"/>
<rect x="367.09" y="284.79" width="6.42" height="6.66" fill="#f95605"/>
<rect x="372.01" y="284.79" width="6.42" height="6.66" fill="#6ce692"/>
<rect x="386.75" y="284.79" width="6.42" height="6.66" fill="#f57009"/>
<rect x="391.67" y="284.79" width="6.42" height="6.66" fill="#bef83f"/>
<rect x="396.59" y="284.79" width="6.42" height="6.66" fill="#8fee6e"/>
<rect x="401.5" y="284.79" width="6.42" height="6.66" fill="#e9bc15"/>
<rect x="406.42" y="284.79" width="6.42" height="6.66" fill="#e1ef1c"/>
<rect x="431" y="284.79" width="6.42" height="6.66" fill="#f1890d"/>
<rect x="435.91" y="284.79" width="6.42" height="6.66" fill="#e5d518"/>
<rect x="342.51" y="222.82" width="6.42" height="6.66" fill="#6ce692"/>
<rect x="352.35" y="222.82" width="6.42" height="6.66" fill="#6ce692"/>
<rect x="367.09" y="222.82" width="6.42" height="6.66" fill="#8fee6e"/>
<rect x="372.01" y="222.82" width="6.42" height="6.66" fill="#e1ef1c"/>
<rect x="376.92" y="222.82" width="6.42" height="6.66" fill="#6ce692"/>
<rect x="381.84" y="222.82" width="6.42" height="6.66" fill="#6ce692"/>
<rect x="322.85" y="217.66" width="6.42" height="6.66" fill="#fd3d02"/>
<rect x="327.77" y="217.66" width="6.42" height="6.66" fill="#fd3d02"/>
<rect x="332.68" y="217.66" width="6.42" height="6.66" fill="#eda311"/>
<rect x="337.6" y="217.66" width="6.42" height="6.66" fill="#eda311"/>
<rect x="342.51" y="217.66" width="6.42" height="6.66" fill="#f1890d"/>
<rect x="347.43" y="217.66" width="6.42" height="6.66" fill="#fd3d02"/>
<rect x="352.35" y="217.66" width="6.42" height="6.66" fill="#f1890d"/>
<rect x="357.26" y="217.66" width="6.42" height="6.66" fill="#eda311"/>
<rect x="362.18" y="217.66" width="6.42" height="6.66" fill="#f57009"/>
<rect x="367.09" y="217.66" width="6.42" height="6.66" fill="#f1890d"/>
<rect x="372.01" y="217.66" width="6.42" height="6.66" fill="#f1890d"/>
<rect x="376.92" y="217.66" width="6.42" height="6.66" fill="#f1890d"/>
<rect x="381.84" y="217.66" width="6.42" height="6.66" fill="#f1890d"/>
<rect x="386.75" y="217.66" width="6.42" height="6.66" fill="#eda311"/>
<rect x="391.67" y="217.66" width="6.42" height="6.66" fill="#f57009"/>
<rect x="396.59" y="217.66" width="6.42" height="6.66" fill="#eda311"/>
<rect x="401.5" y="217.66" width="6.42" height="6.66" fill="#a7f356"/>
<rect x="406.42" y="217.66" width="6.42" height="6.66" fill="#6ce692"/>
<rect x="411.33" y="217.66" width="6.42" height="6.66" fill="#8fee6e"/>
<rect x="416.25" y="217.66" width="6.42" height="6.66" fill="#e9bc15"/>
<rect x="421.16" y="217.66" width="6.42" height="6.66" fill="#f95605"/>
<rect x="426.08" y="217.66" width="6.42" height="6.66" fill="#eda311"/>
<rect x="431" y="217.66" width="6.42" height="6.66" fill="#d6fd27"/>
<rect x="435.91" y="217.66" width="6.42" height="6.66" fill="#8fee6e"/>
<rect x="440.83" y="217.66" width="6.42" height="6.66" fill="#bef83f"/>
<rect x="445.74" y="217.66" width="6.42" height="6.66" fill="#e9bc15"/>
<rect x="450.66" y="217.66" width="6.42" height="6.66" fill="#8fee6e"/>
<rect x="455.57" y="217.66" width="6.42" height="6.66" fill="#6ce692"/>
<rect x="460.49" y="217.66" width="6.42" height="6.66" fill="#6ce692"/>
<rect x="465.4" y="217.66" width="6.42" height="6.66" fill="#6ce692"/>
<rect x="480.15" y="217.66" width="6.42" height="6.66" fill="#6ce692"/>
<rect x="485.07" y="217.66" width="6.42" height="6.66" fill="#6ce692"/>
<rect x="322.85" y="212.5" width="6.42" height="6.66" fill="#6ce692"/>
<rect x="327.77" y="212.5" width="6.42" height="6.66" fill="#6ce692"/>
<rect x="332.68" y="212.5" width="6.42" height="6.66" fill="#6ce692"/>
<rect x="337.6" y="212.5" width="6.42" height="6.66" fill="#eda311"/>
<rect x="342.51" y="212.5" width="6.42" height="6.66" fill="#8fee6e"/>
<rect x="347.43" y="212.5" width="6.42" height="6.66" fill="#6ce692"/>
<rect x="357.26" y="212.5" width="6.42" height="6.66" fill="#e1ef1c"/>
<rect x="362.18" y="212.5" width="6.42" height="6.66" fill="#d6fd27"/>
<rect x="372.01" y="212.5" width="6.42" height="6.66" fill="#e9bc15"/>
<rect x="381.84" y="212.5" width="6.42" height="6.66" fill="#6ce692"/>
<rect x="391.67" y="212.5" width="6.42" height="6.66" fill="#e1ef1c"/>
<rect x="396.59" y="212.5" width="6.42" height="6.66" fill="#eda311"/>
<rect x="401.5" y="212.5" width="6.42" height="6.66" fill="#f57009"/>
<rect x="406.42" y="212.5" width="6.42" height="6.66" fill="#fd3d02"/>
<rect x="411.33" y="212.5" width="6.42" height="6.66" fill="#f1890d"/>
<rect x="416.25" y="212.5" width="6.42" height="6.66" fill="#db2400"/>
<rect x="421.16" y="212.5" width="6.42" height="6.66" fill="#f57009"/>
<rect x="426.08" y="212.5" width="6.42" height="6.66" fill="#e9bc15"/>
<rect x="431" y="212.5" width="6.42" height="6.66" fill="#eda311"/>
<rect x="435.91" y="212.5" width="6.42" height="6.66" fill="#db2400"/>
<rect x="440.83" y="212.5" width="6.42" height="6.66" fill="#f1890d"/>
<rect x="445.74" y="212.5" width="6.42" height="6.66" fill="#f1890d"/>
<rect x="450.66" y="212.5" width="6.42" height="6.66" fill="#f1890d"/>
<rect x="455.57" y="212.5" width="6.42" height="6.66" fill="#f1890d"/>
<rect x="460.49" y="212.5" width="6.42" height="6.66" fill="#f1890d"/>
<rect x="465.4" y="212.5" width="6.42" height="6.66" fill="#f57009"/>
<rect x="470.32" y="212.5" width="6.42" height="6.66" fill="#f57009"/>
<rect x="475.24" y="212.5" width="6.42" height="6.66" fill="#f57009"/>
<rect x="480.15" y="212.5" width="6.42" height="6.66" fill="#f95605"/>
<rect x="485.07" y="212.5" width="6.42" height="6.66" fill="#f95605"/>
<rect x="489.98" y="212.5" width="6.42" height="6.66" fill="#f1890d"/>
<rect x="494.9" y="212.5" width="6.42" height="6.66" fill="#eda311"/>
<rect x="499.81" y="212.5" width="6.42" height="6.66" fill="#f95605"/>
<rect x="504.73" y="212.5" width="6.42" height="6.66" fill="#f95605"/>
<rect x="509.64" y="212.5" width="6.42" height="6.66" fill="#f95605"/>
<rect x="514.56" y="212.5" width="6.42" height="6.66" fill="#f57009"/>
<rect x="519.48" y="212.5" width="6.42" height="6.66" fill="#f57009"/>
<rect x="524.39" y="212.5" width="6.42" height="6.66" fill="#fd3d02"/>
<rect x="529.31" y="212.5" width="6.42" height="6.66" fill="#f57009"/>
<rect x="534.22" y="212.5" width="6.42" height="6.66" fill="#f95605"/>
<rect x="539.14" y="212.5" width="6.42" height="6.66" fill="#f95605"/>
<rect x="544.05" y="212.5" width="6.42" height="6.66" fill="#f22e00"/>
<rect x="548.97" y="212.5" width="6.42" height="6.66" fill="#c51b00"/>
<rect x="553.89" y="212.5" width="6.42" height="6.66" fill="#f57009"/>
<rect x="558.8" y="212.5" width="6.42" height="6.66" fill="#f57009"/>
<rect x="563.72" y="212.5" width="6.42" height="6.66" fill="#fd3d02"/>
<rect x="568.63" y="212.5" width="6.42" height="6.66" fill="#fd3d02"/>
<rect x="573.55" y="212.5" width="6.42" height="6.66" fill="#fd3d02"/>
<rect x="578.46" y="212.5" width="6.42" height="6.66" fill="#f57009"/>
<rect x="583.38" y="212.5" width="6.42" height="6.66" fill="#f95605"/>
<rect x="588.29" y="212.5" width="6.42" height="6.66" fill="#d6fd27"/>
<rect x="406.42" y="207.33" width="6.42" height="6.66" fill="#6ce692"/>
<rect x="416.25" y="207.33" width="6.42" height="6.66" fill="#6ce692"/>
<rect x="504.73" y="207.33" width="6.42" height="6.66" fill="#6ce692"/>
<rect x="509.64" y="207.33" width="6.42" height="6.66" fill="#6ce692"/>
<rect x="539.14" y="207.33" width="6.42" height="6.66" fill="#6ce692"/>
<rect x="544.05" y="207.33" width="6.42" height="6.66" fill="#6ce692"/>
<rect x="548.97" y="207.33" width="6.42" height="6.66" fill="#e9bc15"/>
<rect x="563.72" y="207.33" width="6.42" height="6.66" fill="#d6fd27"/>
<rect x="568.63" y="207.33" width="6.42" height="6.66" fill="#6ce692"/>
<rect x="258.95" y="145.37" width="6.42" height="6.66" fill="#6ce692"/>
<rect x="263.86" y="145.37" width="6.42" height="6.66" fill="#e5d518"/>
<rect x="268.78" y="145.37" width="6.42" height="6.66" fill="#e9bc15"/>
<rect x="273.7" y="145.37" width="6.42" height="6.66" fill="#e5d518"/>
<rect x="278.61" y="145.37" width="6.42" height="6.66" fill="#d6fd27"/>
<rect x="283.53" y="145.37" width="6.42" height="6.66" fill="#d6fd27"/>
<rect x="288.44" y="145.37" width="6.42" height="6.66" fill="#e9bc15"/>
<rect x="293.36" y="145.37" width="6.42" height="6.66" fill="#e1ef1c"/>
<rect x="298.27" y="145.37" width="6.42" height="6.66" fill="#e1ef1c"/>
<rect x="303.19" y="145.37" width="6.42" height="6.66" fill="#6ce692"/>
<rect x="308.11" y="145.37" width="6.42" height="6.66" fill="#bef83f"/>
<rect x="313.02" y="145.37" width="6.42" height="6.66" fill="#e5d518"/>
<rect x="317.94" y="145.37" width="6.42" height="6.66" fill="#f1890d"/>
<rect x="322.85" y="145.37" width="6.42" height="6.66" fill="#a7f356"/>
<rect x="327.77" y="145.37" width="6.42" height="6.66" fill="#e1ef1c"/>
<rect x="332.68" y="145.37" width="6.42" height="6.66" fill="#6ce692"/>
<rect x="357.26" y="145.37" width="6.42" height="6.66" fill="#6ce692"/>
<rect x="362.18" y="145.37" width="6.42" height="6.66" fill="#a7f356"/>
<rect x="367.09" y="145.37" width="6.42" height="6.66" fill="#e5d518"/>
<rect x="372.01" y="145.37" width="6.42" height="6.66" fill="#6ce692"/>
<rect x="440.83" y="145.37" width="6.42" height="6.66" fill="#6ce692"/>
<rect x="445.74" y="145.37" width="6.42" height="6.66" fill="#6ce692"/>
<rect x="258.95" y="140.21" width="6.42" height="6.66" fill="#6ce692"/>
<rect x="263.86" y="140.21" width="6.42" height="6.66" fill="#e9bc15"/>
<rect x="268.78" y="140.21" width="6.42" height="6.66" fill="#f95605"/>
<rect x="273.7" y="140.21" width="6.42" height="6.66" fill="#c51b00"/>
<rect x="278.61" y="140.21" width="6.42" height="6.66" fill="#eda311"/>
<rect x="283.53" y="140.21" width="6.42" height="6.66" fill="#eda311"/>
<rect x="288.44" y="140.21" width="6.42" height="6.66" fill="#f57009"/>
<rect x="293.36" y="140.21" width="6.42" height="6.66" fill="#f1890d"/>
<rect x="298.27" y="140.21" width="6.42" height="6.66" fill="#f95605"/>
<rect x="303.19" y="140.21" width="6.42" height="6.66" fill="#eda311"/>
<rect x="308.11" y="140.21" width="6.42" height="6.66" fill="#eda311"/>
<rect x="313.02" y="140.21" width="6.42" height="6.66" fill="#f1890d"/>
<rect x="317.94" y="140.21" width="6.42" height="6.66" fill="#f57009"/>
<rect x="322.85" y="140.21" width="6.42" height="6.66" fill="#f1890d"/>
<rect x="327.77" y="140.21" width="6.42" height="6.66" fill="#f57009"/>
<rect x="332.68" y="140.21" width="6.42" height="6.66" fill="#f57009"/>
<rect x="337.6" y="140.21" width="6.42" height="6.66" fill="#f1890d"/>
<rect x="342.51" y="140.21" width="6.42" height="6.66" fill="#f1890d"/>
<rect x="347.43" y="140.21" width="6.42" height="6.66" fill="#eda311"/>
<rect x="352.35" y="140.21" width="6.42" height="6.66" fill="#f1890d"/>
<rect x="357.26" y="140.21" width="6.42" height="6.66" fill="#f57009"/>
<rect x="362.18" y="140.21" width="6.42" height="6.66" fill="#f57009"/>
<rect x="367.09" y="140.21" width="6.42" height="6.66" fill="#f57009"/>
<rect x="372.01" y="140.21" width="6.42" height="6.66" fill="#f1890d"/>
<rect x="376.92" y="140.21" width="6.42" height="6.66" fill="#e5d518"/>
<rect x="381.84" y="140.21" width="6.42" height="6.66" fill="#e5d518"/>
<rect x="386.75" y="140.21" width="6.42" height="6.66" fill="#e9bc15"/>
<rect x="391.67" y="140.21" width="6.42" height="6.66" fill="#8fee6e"/>
<rect x="396.59" y="140.21" width="6.42" height="6.66" fill="#8fee6e"/>
<rect x="401.5" y="140.21" width="6.42" height="6.66" fill="#eda311"/>
<rect x="406.42" y="140.21" width="6.42" height="6.66" fill="#f95605"/>
<rect x="411.33" y="140.21" width="6.42" height="6.66" fill="#f1890d"/>
<rect x="416.25" y="140.21" width="6.42" height="6.66" fill="#f57009"/>
<rect x="421.16" y="140.21" width="6.42" height="6.66" fill="#fd3d02"/>
<rect x="426.08" y="140.21" width="6.42" height="6.66" fill="#f1890d"/>
<rect x="431" y="140.21" width="6.42" height="6.66" fill="#f57009"/>
<rect x="435.91" y="140.21" width="6.42" height="6.66" fill="#f57009"/>
<rect x="440.83" y="140.21" width="6.42" height="6.66" fill="#f95605"/>
<rect x="445.74" y="140.21" width="6.42" height="6.66" fill="#f95605"/>
<rect x="450.66" y="140.21" width="6.42" height="6.66" fill="#f1890d"/>
<rect x="455.57" y="140.21" width="6.42" height="6.66" fill="#f1890d"/>
<rect x="460.49" y="140.21" width="6.42" height="6.66" fill="#f22e00"/>
<rect x="465.4" y="140.21" width="6.42" height="6.66" fill="#f95605"/>
<rect x="470.32" y="140.21" width="6.42" height="6.66" fill="#f95605"/>
<rect x="475.24" y="140.21" width="6.42" height="6.66" fill="#f1890d"/>
<rect x="480.15" y="140.21" width="6.42" height="6.66" fill="#f95605"/>
<rect x="485.07" y="140.21" width="6.42" height="6.66" fill="#f57009"/>
<rect x="489.98" y="140.21" width="6.42" height="6.66" fill="#f22e00"/>
<rect x="494.9" y="140.21" width="6.42" height="6.66" fill="#f1890d"/>
<rect x="499.81" y="140.21" width="6.42" height="6.66" fill="#f1890d"/>
<rect x="504.73" y="140.21" width="6.42" height="6.66" fill="#f95605"/>
<rect x="509.64" y="140.21" width="6.42" height="6.66" fill="#f57009"/>
<rect x="514.56" y="140.21" width="6.42" height="6.66" fill="#f57009"/>
<rect x="519.48" y="140.21" width="6.42" height="6.66" fill="#eda311"/>
<rect x="268.78" y="135.04" width="6.42" height="6.66" fill="#6ce692"/>
<rect x="273.7" y="135.04" width="6.42" height="6.66" fill="#6ce692"/>
<rect x="288.44" y="135.04" width="6.42" height="6.66" fill="#d6fd27"/>
<rect x="298.27" y="135.04" width="6.42" height="6.66" fill="#bef83f"/>
<rect x="317.94" y="135.04" width="6.42" height="6.66" fill="#6ce692"/>
<rect x="327.77" y="135.04" width="6.42" height="6.66" fill="#bef83f"/>
<rect x="332.68" y="135.04" width="6.42" height="6.66" fill="#6ce692"/>
<rect x="337.6" y="135.04" width="6.42" height="6.66" fill="#6ce692"/>
<rect x="342.51" y="135.04" width="6.42" height="6.66" fill="#8fee6e"/>
<rect x="347.43" y="135.04" width="6.42" height="6.66" fill="#eda311"/>
<rect x="352.35" y="135.04" width="6.42" height="6.66" fill="#bef83f"/>
<rect x="357.26" y="135.04" width="6.42" height="6.66" fill="#e5d518"/>
<rect x="362.18" y="135.04" width="6.42" height="6.66" fill="#bef83f"/>
<rect x="367.09" y="135.04" width="6.42" height="6.66" fill="#bef83f"/>
<rect x="372.01" y="135.04" width="6.42" height="6.66" fill="#f1890d"/>
<rect x="376.92" y="135.04" width="6.42" height="6.66" fill="#f1890d"/>
<rect x="381.84" y="135.04" width="6.42" height="6.66" fill="#eda311"/>
<rect x="386.75" y="135.04" width="6.42" height="6.66" fill="#f57009"/>
<rect x="391.67" y="135.04" width="6.42" height="6.66" fill="#eda311"/>
<rect x="396.59" y="135.04" width="6.42" height="6.66" fill="#f95605"/>
<rect x="401.5" y="135.04" width="6.42" height="6.66" fill="#f95605"/>
<rect x="406.42" y="135.04" width="6.42" height="6.66" fill="#f1890d"/>
<rect x="411.33" y="135.04" width="6.42" height="6.66" fill="#d6fd27"/>
<rect x="416.25" y="135.04" width="6.42" height="6.66" fill="#e9bc15"/>
<rect x="421.16" y="135.04" width="6.42" height="6.66" fill="#bef83f"/>
<rect x="426.08" y="135.04" width="6.42" height="6.66" fill="#6ce692"/>
<rect x="431" y="135.04" width="6.42" height="6.66" fill="#6ce692"/>
<rect x="435.91" y="135.04" width="6.42" height="6.66" fill="#6ce692"/>
<rect x="440.83" y="135.04" width="6.42" height="6.66" fill="#6ce692"/>
<rect x="445.74" y="135.04" width="6.42" height="6.66" fill="#6ce692"/>
<rect x="460.49" y="135.04" width="6.42" height="6.66" fill="#6ce692"/>
<rect x="465.4" y="135.04" width="6.42" height="6.66" fill="#6ce692"/>
<rect x="485.07" y="135.04" width="6.42" height="6.66" fill="#e1ef1c"/>
<rect x="489.98" y="135.04" width="6.42" height="6.66" fill="#e5d518"/>
<rect x="499.81" y="135.04" width="6.42" height="6.66" fill="#6ce692"/>
<rect x="504.73" y="135.04" width="6.42" height="6.66" fill="#d6fd27"/>
<rect x="509.64" y="135.04" width="6.42" height="6.66" fill="#e5d518"/>
<rect x="514.56" y="135.04" width="6.42" height="6.66" fill="#d6fd27"/>
<rect x="519.48" y="135.04" width="6.42" height="6.66" fill="#f95605"/>
<rect x="524.39" y="135.04" width="6.42" height="6.66" fill="#e9bc15"/>
<rect x="372.01" y="129.88" width="6.42" height="6.66" fill="#6ce692"/>
<rect x="386.75" y="129.88" width="6.42" height="6.66" fill="#6ce692"/>
<rect x="391.67" y="129.88" width="6.42" height="6.66" fill="#6ce692"/>
<rect x="396.59" y="129.88" width="6.42" height="6.66" fill="#f1890d"/>
<rect x="401.5" y="129.88" width="6.42" height="6.66" fill="#6ce692"/>
</g>
<defs><linearGradient id="glog" x1="0" y1="0" x2="0" y2="1"><stop offset="0" stop-color="#820000"/><stop offset="0.16" stop-color="#ff3300"/><stop offset="0.39" stop-color="#deff1f"/><stop offset="0.66" stop-color="#00cfff"/><stop offset="1" stop-color="#000082"/></linearGradient></defs>
<rect x="735.3" y="73" width="42.6" height="662.45" fill="url(#glog)"/>
<path d="M776.45 73V735.45" stroke="#000" stroke-width="2.9"/>
<text transform="translate(786.2 636.2) scale(1 1.05)" font-size="26.3" letter-spacing="0.4">1</text>
<text transform="translate(786.2 415.9) scale(1 1.05)" font-size="26.3" letter-spacing="0.4">10</text>
<text transform="translate(786.2 198.5) scale(1 1.05)" font-size="26.3" letter-spacing="0.4">10<tspan dx="-0.6" dy="-10.2" font-size="18.2">2</tspan></text>
<path d="M776.45 714.67h-10.6M776.45 693.32h-10.6M776.45 675.87h-10.6M776.45 661.12h-10.6M776.45 648.35h-10.6M776.45 637.08h-10.6M776.45 627h-21.5M776.45 560.68h-10.6M776.45 521.89h-10.6M776.45 494.37h-10.6M776.45 473.02h-10.6M776.45 455.57h-10.6M776.45 440.82h-10.6M776.45 428.05h-10.6M776.45 416.78h-10.6M776.45 406.7h-21.5M776.45 340.38h-10.6M776.45 301.59h-10.6M776.45 274.07h-10.6M776.45 252.72h-10.6M776.45 235.27h-10.6M776.45 220.52h-10.6M776.45 207.75h-10.6M776.45 196.48h-10.6M776.45 186.4h-21.5M776.45 120.08h-10.6M776.45 81.29h-10.6" stroke="#000" stroke-width="2.2" fill="none"/>
<rect x="102" y="73.6" width="629.6" height="660.85" fill="none" stroke="#000" stroke-width="2.75"/>
<path d="M102 72.22V735.83" fill="none" stroke="#000" stroke-width="3.5"/>
<path d="M104.35 734.45v-17.7M102 731.55h21.5M153.56 734.45v-8.65M102 679.97h10.7M202.77 734.45v-8.65M102 628.4h10.7M251.98 734.45v-8.65M102 576.82h10.7M301.19 734.45v-8.65M102 525.25h10.7M350.4 734.45v-17.7M102 473.67h21.5M399.61 734.45v-8.65M102 422.1h10.7M448.82 734.45v-8.65M102 370.52h10.7M498.03 734.45v-8.65M102 318.95h10.7M547.24 734.45v-8.65M102 267.38h10.7M596.45 734.45v-17.7M102 215.8h21.5M645.66 734.45v-8.65M102 164.23h10.7M694.87 734.45v-8.65M102 112.65h10.7" stroke="#000" stroke-width="2.9" fill="none"/>
<text transform="translate(105.3 771.2) scale(1 1.05)" font-size="38" text-anchor="middle" letter-spacing="0.7">0</text>
<text transform="translate(97.7 746.45) scale(1 1.05)" font-size="38" text-anchor="end" letter-spacing="0.7">0</text>
<text transform="translate(350.05 771.2) scale(1 1.05)" font-size="38" text-anchor="middle" letter-spacing="0.7">50</text>
<text transform="translate(97.7 488.57) scale(1 1.05)" font-size="38" text-anchor="end" letter-spacing="0.7">50</text>
<text transform="translate(595.3 771.2) scale(1 1.05)" font-size="38" text-anchor="middle" letter-spacing="0.7">100</text>
<text transform="translate(97.7 230.7) scale(1 1.05)" font-size="38" text-anchor="end" letter-spacing="0.7">100</text>
<text x="730.4" y="816.8" font-size="39" text-anchor="end" class="b">Pixel No. X</text>
<g>
<rect x="1405.64" y="646.23" width="6.42" height="6.66" fill="#02cffd"/>
<rect x="1410.56" y="646.23" width="6.42" height="6.66" fill="#00aeeb"/>
<rect x="1415.48" y="646.23" width="6.42" height="6.66" fill="#02cffd"/>
<rect x="1346.66" y="641.07" width="6.42" height="6.66" fill="#fd3d02"/>
<rect x="1351.57" y="641.07" width="6.42" height="6.66" fill="#bef83f"/>
<rect x="1356.49" y="641.07" width="6.42" height="6.66" fill="#78e986"/>
<rect x="1361.4" y="641.07" width="6.42" height="6.66" fill="#60e49e"/>
<rect x="1366.32" y="641.07" width="6.42" height="6.66" fill="#31d9cd"/>
<rect x="1371.24" y="641.07" width="6.42" height="6.66" fill="#31d9cd"/>
<rect x="1376.15" y="641.07" width="6.42" height="6.66" fill="#31d9cd"/>
<rect x="1381.07" y="641.07" width="6.42" height="6.66" fill="#31d9cd"/>
<rect x="1385.98" y="641.07" width="6.42" height="6.66" fill="#31d9cd"/>
<rect x="1390.9" y="641.07" width="6.42" height="6.66" fill="#31d9cd"/>
<rect x="1395.81" y="641.07" width="6.42" height="6.66" fill="#1ad4e5"/>
<rect x="1400.73" y="641.07" width="6.42" height="6.66" fill="#1ad4e5"/>
<rect x="1405.64" y="641.07" width="6.42" height="6.66" fill="#00bff6"/>
<rect x="1410.56" y="641.07" width="6.42" height="6.66" fill="#00aeeb"/>
<rect x="1415.48" y="641.07" width="6.42" height="6.66" fill="#00aeeb"/>
<rect x="1420.39" y="641.07" width="6.42" height="6.66" fill="#00bff6"/>
<rect x="1425.31" y="641.07" width="6.42" height="6.66" fill="#00bff6"/>
<rect x="1430.22" y="641.07" width="6.42" height="6.66" fill="#00bff6"/>
<rect x="1435.14" y="641.07" width="6.42" height="6.66" fill="#02cffd"/>
<rect x="1440.05" y="641.07" width="6.42" height="6.66" fill="#31d9cd"/>
<rect x="1444.97" y="641.07" width="6.42" height="6.66" fill="#00aeeb"/>
<rect x="1449.89" y="641.07" width="6.42" height="6.66" fill="#02cffd"/>
<rect x="1454.8" y="641.07" width="6.42" height="6.66" fill="#02cffd"/>
<rect x="1459.72" y="641.07" width="6.42" height="6.66" fill="#00bff6"/>
<rect x="1464.63" y="641.07" width="6.42" height="6.66" fill="#008bd6"/>
<rect x="1469.55" y="641.07" width="6.42" height="6.66" fill="#008bd6"/>
<rect x="1474.46" y="641.07" width="6.42" height="6.66" fill="#009ce1"/>
<rect x="1479.38" y="641.07" width="6.42" height="6.66" fill="#00bff6"/>
<rect x="1503.96" y="641.07" width="6.42" height="6.66" fill="#31d9cd"/>
<rect x="1508.87" y="641.07" width="6.42" height="6.66" fill="#0057b7"/>
<rect x="1513.79" y="641.07" width="6.42" height="6.66" fill="#0068c1"/>
<rect x="1351.57" y="635.9" width="6.42" height="6.66" fill="#bef83f"/>
<rect x="1356.49" y="635.9" width="6.42" height="6.66" fill="#49deb5"/>
<rect x="1361.4" y="635.9" width="6.42" height="6.66" fill="#78e986"/>
<rect x="1371.24" y="635.9" width="6.42" height="6.66" fill="#78e986"/>
<rect x="1376.15" y="635.9" width="6.42" height="6.66" fill="#31d9cd"/>
<rect x="1381.07" y="635.9" width="6.42" height="6.66" fill="#31d9cd"/>
<rect x="1385.98" y="635.9" width="6.42" height="6.66" fill="#49deb5"/>
<rect x="1390.9" y="635.9" width="6.42" height="6.66" fill="#49deb5"/>
<rect x="1395.81" y="635.9" width="6.42" height="6.66" fill="#02cffd"/>
<rect x="1400.73" y="635.9" width="6.42" height="6.66" fill="#02cffd"/>
<rect x="1405.64" y="635.9" width="6.42" height="6.66" fill="#00bff6"/>
<rect x="1410.56" y="635.9" width="6.42" height="6.66" fill="#00bff6"/>
<rect x="1415.48" y="635.9" width="6.42" height="6.66" fill="#00aeeb"/>
<rect x="1420.39" y="635.9" width="6.42" height="6.66" fill="#00aeeb"/>
<rect x="1425.31" y="635.9" width="6.42" height="6.66" fill="#00bff6"/>
<rect x="1430.22" y="635.9" width="6.42" height="6.66" fill="#00bff6"/>
<rect x="1435.14" y="635.9" width="6.42" height="6.66" fill="#009ce1"/>
<rect x="1440.05" y="635.9" width="6.42" height="6.66" fill="#009ce1"/>
<rect x="1444.97" y="635.9" width="6.42" height="6.66" fill="#009ce1"/>
<rect x="1449.89" y="635.9" width="6.42" height="6.66" fill="#008bd6"/>
<rect x="1454.8" y="635.9" width="6.42" height="6.66" fill="#008bd6"/>
<rect x="1459.72" y="635.9" width="6.42" height="6.66" fill="#008bd6"/>
<rect x="1464.63" y="635.9" width="6.42" height="6.66" fill="#008bd6"/>
<rect x="1469.55" y="635.9" width="6.42" height="6.66" fill="#008bd6"/>
<rect x="1474.46" y="635.9" width="6.42" height="6.66" fill="#0068c1"/>
<rect x="1479.38" y="635.9" width="6.42" height="6.66" fill="#0068c1"/>
<rect x="1484.29" y="635.9" width="6.42" height="6.66" fill="#0068c1"/>
<rect x="1489.21" y="635.9" width="6.42" height="6.66" fill="#0068c1"/>
<rect x="1494.13" y="635.9" width="6.42" height="6.66" fill="#0068c1"/>
<rect x="1499.04" y="635.9" width="6.42" height="6.66" fill="#0068c1"/>
<rect x="1503.96" y="635.9" width="6.42" height="6.66" fill="#007acc"/>
<rect x="1508.87" y="635.9" width="6.42" height="6.66" fill="#0045ac"/>
<rect x="1513.79" y="635.9" width="6.42" height="6.66" fill="#0057b7"/>
<rect x="1518.7" y="635.9" width="6.42" height="6.66" fill="#007acc"/>
<rect x="1523.62" y="635.9" width="6.42" height="6.66" fill="#0057b7"/>
<rect x="1528.53" y="635.9" width="6.42" height="6.66" fill="#0045ac"/>
<rect x="1533.45" y="635.9" width="6.42" height="6.66" fill="#0034a2"/>
<rect x="1538.37" y="635.9" width="6.42" height="6.66" fill="#0034a2"/>
<rect x="1543.28" y="635.9" width="6.42" height="6.66" fill="#0034a2"/>
<rect x="1548.2" y="635.9" width="6.42" height="6.66" fill="#0034a2"/>
<rect x="1553.11" y="635.9" width="6.42" height="6.66" fill="#0034a2"/>
<rect x="1558.03" y="635.9" width="6.42" height="6.66" fill="#0034a2"/>
<rect x="1562.94" y="635.9" width="6.42" height="6.66" fill="#0045ac"/>
<rect x="1567.86" y="635.9" width="6.42" height="6.66" fill="#0045ac"/>
<rect x="1572.78" y="635.9" width="6.42" height="6.66" fill="#000082"/>
<rect x="1577.69" y="635.9" width="6.42" height="6.66" fill="#002397"/>
<rect x="1376.15" y="630.74" width="6.42" height="6.66" fill="#eda311"/>
<rect x="1410.56" y="630.74" width="6.42" height="6.66" fill="#a7f356"/>
<rect x="1454.8" y="630.74" width="6.42" height="6.66" fill="#31d9cd"/>
<rect x="1459.72" y="630.74" width="6.42" height="6.66" fill="#31d9cd"/>
<rect x="1464.63" y="630.74" width="6.42" height="6.66" fill="#008bd6"/>
<rect x="1469.55" y="630.74" width="6.42" height="6.66" fill="#008bd6"/>
<rect x="1474.46" y="630.74" width="6.42" height="6.66" fill="#008bd6"/>
<rect x="1479.38" y="630.74" width="6.42" height="6.66" fill="#00bff6"/>
<rect x="1484.29" y="630.74" width="6.42" height="6.66" fill="#60e49e"/>
<rect x="1489.21" y="630.74" width="6.42" height="6.66" fill="#31d9cd"/>
<rect x="1494.13" y="630.74" width="6.42" height="6.66" fill="#31d9cd"/>
<rect x="1499.04" y="630.74" width="6.42" height="6.66" fill="#00aeeb"/>
<rect x="1503.96" y="630.74" width="6.42" height="6.66" fill="#007acc"/>
<rect x="1508.87" y="630.74" width="6.42" height="6.66" fill="#0045ac"/>
<rect x="1513.79" y="630.74" width="6.42" height="6.66" fill="#0045ac"/>
<rect x="1518.7" y="630.74" width="6.42" height="6.66" fill="#0068c1"/>
<rect x="1523.62" y="630.74" width="6.42" height="6.66" fill="#02cffd"/>
<rect x="1528.53" y="630.74" width="6.42" height="6.66" fill="#0057b7"/>
<rect x="1538.37" y="630.74" width="6.42" height="6.66" fill="#0068c1"/>
<rect x="1543.28" y="630.74" width="6.42" height="6.66" fill="#0057b7"/>
<rect x="1562.94" y="630.74" width="6.42" height="6.66" fill="#0034a2"/>
<rect x="1572.78" y="630.74" width="6.42" height="6.66" fill="#00118d"/>
<rect x="1577.69" y="630.74" width="6.42" height="6.66" fill="#0034a2"/>
<rect x="1145.12" y="506.82" width="6.42" height="6.66" fill="#60e49e"/>
<rect x="1150.03" y="506.82" width="6.42" height="6.66" fill="#bef83f"/>
<rect x="1159.86" y="506.82" width="6.42" height="6.66" fill="#a7f356"/>
<rect x="1130.37" y="501.65" width="6.42" height="6.66" fill="#a7f356"/>
<rect x="1135.29" y="501.65" width="6.42" height="6.66" fill="#8fee6e"/>
<rect x="1140.2" y="501.65" width="6.42" height="6.66" fill="#a7f356"/>
<rect x="1145.12" y="501.65" width="6.42" height="6.66" fill="#a7f356"/>
<rect x="1150.03" y="501.65" width="6.42" height="6.66" fill="#78e986"/>
<rect x="1154.95" y="501.65" width="6.42" height="6.66" fill="#78e986"/>
<rect x="1159.86" y="501.65" width="6.42" height="6.66" fill="#78e986"/>
<rect x="1164.78" y="501.65" width="6.42" height="6.66" fill="#49deb5"/>
<rect x="1169.7" y="501.65" width="6.42" height="6.66" fill="#49deb5"/>
<rect x="1174.61" y="501.65" width="6.42" height="6.66" fill="#31d9cd"/>
<rect x="1179.53" y="501.65" width="6.42" height="6.66" fill="#31d9cd"/>
<rect x="1184.44" y="501.65" width="6.42" height="6.66" fill="#49deb5"/>
<rect x="1189.36" y="501.65" width="6.42" height="6.66" fill="#49deb5"/>
<rect x="1194.27" y="501.65" width="6.42" height="6.66" fill="#49deb5"/>
<rect x="1199.19" y="501.65" width="6.42" height="6.66" fill="#78e986"/>
<rect x="1204.11" y="501.65" width="6.42" height="6.66" fill="#60e49e"/>
<rect x="1209.02" y="501.65" width="6.42" height="6.66" fill="#02cffd"/>
<rect x="1213.94" y="501.65" width="6.42" height="6.66" fill="#31d9cd"/>
<rect x="1218.85" y="501.65" width="6.42" height="6.66" fill="#31d9cd"/>
<rect x="1223.77" y="501.65" width="6.42" height="6.66" fill="#8fee6e"/>
<rect x="1228.68" y="501.65" width="6.42" height="6.66" fill="#8fee6e"/>
<rect x="1233.6" y="501.65" width="6.42" height="6.66" fill="#31d9cd"/>
<rect x="1238.51" y="501.65" width="6.42" height="6.66" fill="#31d9cd"/>
<rect x="1243.43" y="501.65" width="6.42" height="6.66" fill="#31d9cd"/>
<rect x="1248.35" y="501.65" width="6.42" height="6.66" fill="#00bff6"/>
<rect x="1253.26" y="501.65" width="6.42" height="6.66" fill="#00aeeb"/>
<rect x="1258.18" y="501.65" width="6.42" height="6.66" fill="#00aeeb"/>
<rect x="1263.09" y="501.65" width="6.42" height="6.66" fill="#00aeeb"/>
<rect x="1268.01" y="501.65" width="6.42" height="6.66" fill="#009ce1"/>
<rect x="1272.92" y="501.65" width="6.42" height="6.66" fill="#00bff6"/>
<rect x="1277.84" y="501.65" width="6.42" height="6.66" fill="#31d9cd"/>
<rect x="1282.75" y="501.65" width="6.42" height="6.66" fill="#31d9cd"/>
<rect x="1287.67" y="501.65" width="6.42" height="6.66" fill="#008bd6"/>
<rect x="1292.59" y="501.65" width="6.42" height="6.66" fill="#78e986"/>
<rect x="1312.25" y="501.65" width="6.42" height="6.66" fill="#78e986"/>
<rect x="1327" y="501.65" width="6.42" height="6.66" fill="#008bd6"/>
<rect x="1331.91" y="501.65" width="6.42" height="6.66" fill="#0057b7"/>
<rect x="1336.83" y="501.65" width="6.42" height="6.66" fill="#007acc"/>
<rect x="1346.66" y="501.65" width="6.42" height="6.66" fill="#02cffd"/>
<rect x="1351.57" y="501.65" width="6.42" height="6.66" fill="#009ce1"/>
<rect x="1356.49" y="501.65" width="6.42" height="6.66" fill="#00118d"/>
<rect x="1361.4" y="501.65" width="6.42" height="6.66" fill="#00118d"/>
<rect x="1366.32" y="501.65" width="6.42" height="6.66" fill="#0057b7"/>
<rect x="1371.24" y="501.65" width="6.42" height="6.66" fill="#0057b7"/>
<rect x="1164.78" y="496.49" width="6.42" height="6.66" fill="#e1ef1c"/>
<rect x="1169.7" y="496.49" width="6.42" height="6.66" fill="#e9bc15"/>
<rect x="1174.61" y="496.49" width="6.42" height="6.66" fill="#49deb5"/>
<rect x="1179.53" y="496.49" width="6.42" height="6.66" fill="#31d9cd"/>
<rect x="1184.44" y="496.49" width="6.42" height="6.66" fill="#78e986"/>
<rect x="1189.36" y="496.49" width="6.42" height="6.66" fill="#31d9cd"/>
<rect x="1194.27" y="496.49" width="6.42" height="6.66" fill="#31d9cd"/>
<rect x="1199.19" y="496.49" width="6.42" height="6.66" fill="#1ad4e5"/>
<rect x="1204.11" y="496.49" width="6.42" height="6.66" fill="#02cffd"/>
<rect x="1209.02" y="496.49" width="6.42" height="6.66" fill="#02cffd"/>
<rect x="1213.94" y="496.49" width="6.42" height="6.66" fill="#02cffd"/>
<rect x="1218.85" y="496.49" width="6.42" height="6.66" fill="#02cffd"/>
<rect x="1223.77" y="496.49" width="6.42" height="6.66" fill="#02cffd"/>
<rect x="1228.68" y="496.49" width="6.42" height="6.66" fill="#00bff6"/>
<rect x="1233.6" y="496.49" width="6.42" height="6.66" fill="#00bff6"/>
<rect x="1238.51" y="496.49" width="6.42" height="6.66" fill="#00bff6"/>
<rect x="1243.43" y="496.49" width="6.42" height="6.66" fill="#02cffd"/>
<rect x="1248.35" y="496.49" width="6.42" height="6.66" fill="#00aeeb"/>
<rect x="1253.26" y="496.49" width="6.42" height="6.66" fill="#00aeeb"/>
<rect x="1258.18" y="496.49" width="6.42" height="6.66" fill="#00aeeb"/>
<rect x="1263.09" y="496.49" width="6.42" height="6.66" fill="#008bd6"/>
<rect x="1268.01" y="496.49" width="6.42" height="6.66" fill="#008bd6"/>
<rect x="1272.92" y="496.49" width="6.42" height="6.66" fill="#009ce1"/>
<rect x="1277.84" y="496.49" width="6.42" height="6.66" fill="#007acc"/>
<rect x="1282.75" y="496.49" width="6.42" height="6.66" fill="#007acc"/>
<rect x="1287.67" y="496.49" width="6.42" height="6.66" fill="#007acc"/>
<rect x="1292.59" y="496.49" width="6.42" height="6.66" fill="#007acc"/>
<rect x="1297.5" y="496.49" width="6.42" height="6.66" fill="#007acc"/>
<rect x="1302.42" y="496.49" width="6.42" height="6.66" fill="#007acc"/>
<rect x="1307.33" y="496.49" width="6.42" height="6.66" fill="#007acc"/>
<rect x="1312.25" y="496.49" width="6.42" height="6.66" fill="#0068c1"/>
<rect x="1317.16" y="496.49" width="6.42" height="6.66" fill="#0057b7"/>
<rect x="1322.08" y="496.49" width="6.42" height="6.66" fill="#0057b7"/>
<rect x="1327" y="496.49" width="6.42" height="6.66" fill="#0057b7"/>
<rect x="1331.91" y="496.49" width="6.42" height="6.66" fill="#0057b7"/>
<rect x="1336.83" y="496.49" width="6.42" height="6.66" fill="#0045ac"/>
<rect x="1341.74" y="496.49" width="6.42" height="6.66" fill="#0045ac"/>
<rect x="1346.66" y="496.49" width="6.42" height="6.66" fill="#0034a2"/>
<rect x="1351.57" y="496.49" width="6.42" height="6.66" fill="#002397"/>
<rect x="1356.49" y="496.49" width="6.42" height="6.66" fill="#00118d"/>
<rect x="1361.4" y="496.49" width="6.42" height="6.66" fill="#00118d"/>
<rect x="1366.32" y="496.49" width="6.42" height="6.66" fill="#002397"/>
<rect x="1371.24" y="496.49" width="6.42" height="6.66" fill="#002397"/>
<rect x="1376.15" y="496.49" width="6.42" height="6.66" fill="#00118d"/>
<rect x="1381.07" y="496.49" width="6.42" height="6.66" fill="#00118d"/>
<rect x="1385.98" y="496.49" width="6.42" height="6.66" fill="#000082"/>
<rect x="1390.9" y="496.49" width="6.42" height="6.66" fill="#000082"/>
<rect x="1395.81" y="496.49" width="6.42" height="6.66" fill="#000082"/>
<rect x="1204.11" y="491.33" width="6.42" height="6.66" fill="#d6fd27"/>
<rect x="1292.59" y="491.33" width="6.42" height="6.66" fill="#009ce1"/>
<rect x="1297.5" y="491.33" width="6.42" height="6.66" fill="#007acc"/>
<rect x="1302.42" y="491.33" width="6.42" height="6.66" fill="#009ce1"/>
<rect x="1307.33" y="491.33" width="6.42" height="6.66" fill="#009ce1"/>
<rect x="1312.25" y="491.33" width="6.42" height="6.66" fill="#78e986"/>
<rect x="1341.74" y="491.33" width="6.42" height="6.66" fill="#0057b7"/>
<rect x="1346.66" y="491.33" width="6.42" height="6.66" fill="#0057b7"/>
<rect x="1351.57" y="491.33" width="6.42" height="6.66" fill="#0045ac"/>
<rect x="1356.49" y="491.33" width="6.42" height="6.66" fill="#002397"/>
<rect x="1361.4" y="491.33" width="6.42" height="6.66" fill="#002397"/>
<rect x="1366.32" y="491.33" width="6.42" height="6.66" fill="#0045ac"/>
<rect x="1371.24" y="491.33" width="6.42" height="6.66" fill="#008bd6"/>
<rect x="1376.15" y="491.33" width="6.42" height="6.66" fill="#0034a2"/>
<rect x="1381.07" y="491.33" width="6.42" height="6.66" fill="#0034a2"/>
<rect x="1385.98" y="491.33" width="6.42" height="6.66" fill="#00118d"/>
<rect x="1390.9" y="491.33" width="6.42" height="6.66" fill="#002397"/>
<rect x="1302.42" y="403.55" width="6.42" height="6.66" fill="#d6fd27"/>
<rect x="1307.33" y="403.55" width="6.42" height="6.66" fill="#60e49e"/>
<rect x="1312.25" y="403.55" width="6.42" height="6.66" fill="#a7f356"/>
<rect x="1317.16" y="403.55" width="6.42" height="6.66" fill="#e1ef1c"/>
<rect x="1322.08" y="403.55" width="6.42" height="6.66" fill="#78e986"/>
<rect x="1356.49" y="403.55" width="6.42" height="6.66" fill="#e1ef1c"/>
<rect x="1297.5" y="398.38" width="6.42" height="6.66" fill="#e1ef1c"/>
<rect x="1302.42" y="398.38" width="6.42" height="6.66" fill="#78e986"/>
<rect x="1307.33" y="398.38" width="6.42" height="6.66" fill="#78e986"/>
<rect x="1312.25" y="398.38" width="6.42" height="6.66" fill="#78e986"/>
<rect x="1317.16" y="398.38" width="6.42" height="6.66" fill="#78e986"/>
<rect x="1322.08" y="398.38" width="6.42" height="6.66" fill="#78e986"/>
<rect x="1327" y="398.38" width="6.42" height="6.66" fill="#49deb5"/>
<rect x="1331.91" y="398.38" width="6.42" height="6.66" fill="#49deb5"/>
<rect x="1336.83" y="398.38" width="6.42" height="6.66" fill="#31d9cd"/>
<rect x="1341.74" y="398.38" width="6.42" height="6.66" fill="#31d9cd"/>
<rect x="1346.66" y="398.38" width="6.42" height="6.66" fill="#31d9cd"/>
<rect x="1351.57" y="398.38" width="6.42" height="6.66" fill="#31d9cd"/>
<rect x="1356.49" y="398.38" width="6.42" height="6.66" fill="#1ad4e5"/>
<rect x="1361.4" y="398.38" width="6.42" height="6.66" fill="#1ad4e5"/>
<rect x="1366.32" y="398.38" width="6.42" height="6.66" fill="#1ad4e5"/>
<rect x="1371.24" y="398.38" width="6.42" height="6.66" fill="#1ad4e5"/>
<rect x="1376.15" y="398.38" width="6.42" height="6.66" fill="#02cffd"/>
<rect x="1381.07" y="398.38" width="6.42" height="6.66" fill="#02cffd"/>
<rect x="1385.98" y="398.38" width="6.42" height="6.66" fill="#02cffd"/>
<rect x="1390.9" y="398.38" width="6.42" height="6.66" fill="#31d9cd"/>
<rect x="1395.81" y="398.38" width="6.42" height="6.66" fill="#02cffd"/>
<rect x="1400.73" y="398.38" width="6.42" height="6.66" fill="#1ad4e5"/>
<rect x="1405.64" y="398.38" width="6.42" height="6.66" fill="#00aeeb"/>
<rect x="1410.56" y="398.38" width="6.42" height="6.66" fill="#00aeeb"/>
<rect x="1415.48" y="398.38" width="6.42" height="6.66" fill="#00aeeb"/>
<rect x="1420.39" y="398.38" width="6.42" height="6.66" fill="#00bff6"/>
<rect x="1425.31" y="398.38" width="6.42" height="6.66" fill="#1ad4e5"/>
<rect x="1430.22" y="398.38" width="6.42" height="6.66" fill="#00bff6"/>
<rect x="1435.14" y="398.38" width="6.42" height="6.66" fill="#009ce1"/>
<rect x="1440.05" y="398.38" width="6.42" height="6.66" fill="#02cffd"/>
<rect x="1444.97" y="398.38" width="6.42" height="6.66" fill="#49deb5"/>
<rect x="1449.89" y="398.38" width="6.42" height="6.66" fill="#02cffd"/>
<rect x="1454.8" y="398.38" width="6.42" height="6.66" fill="#00aeeb"/>
<rect x="1459.72" y="398.38" width="6.42" height="6.66" fill="#00aeeb"/>
<rect x="1464.63" y="398.38" width="6.42" height="6.66" fill="#02cffd"/>
<rect x="1474.46" y="398.38" width="6.42" height="6.66" fill="#009ce1"/>
<rect x="1479.38" y="398.38" width="6.42" height="6.66" fill="#008bd6"/>
<rect x="1484.29" y="398.38" width="6.42" height="6.66" fill="#02cffd"/>
<rect x="1307.33" y="393.22" width="6.42" height="6.66" fill="#e1ef1c"/>
<rect x="1312.25" y="393.22" width="6.42" height="6.66" fill="#bef83f"/>
<rect x="1317.16" y="393.22" width="6.42" height="6.66" fill="#a7f356"/>
<rect x="1322.08" y="393.22" width="6.42" height="6.66" fill="#8fee6e"/>
<rect x="1327" y="393.22" width="6.42" height="6.66" fill="#8fee6e"/>
<rect x="1331.91" y="393.22" width="6.42" height="6.66" fill="#60e49e"/>
<rect x="1336.83" y="393.22" width="6.42" height="6.66" fill="#60e49e"/>
<rect x="1341.74" y="393.22" width="6.42" height="6.66" fill="#8fee6e"/>
<rect x="1346.66" y="393.22" width="6.42" height="6.66" fill="#78e986"/>
<rect x="1351.57" y="393.22" width="6.42" height="6.66" fill="#49deb5"/>
<rect x="1356.49" y="393.22" width="6.42" height="6.66" fill="#49deb5"/>
<rect x="1361.4" y="393.22" width="6.42" height="6.66" fill="#02cffd"/>
<rect x="1366.32" y="393.22" width="6.42" height="6.66" fill="#31d9cd"/>
<rect x="1371.24" y="393.22" width="6.42" height="6.66" fill="#31d9cd"/>
<rect x="1376.15" y="393.22" width="6.42" height="6.66" fill="#1ad4e5"/>
<rect x="1381.07" y="393.22" width="6.42" height="6.66" fill="#1ad4e5"/>
<rect x="1385.98" y="393.22" width="6.42" height="6.66" fill="#02cffd"/>
<rect x="1390.9" y="393.22" width="6.42" height="6.66" fill="#02cffd"/>
<rect x="1395.81" y="393.22" width="6.42" height="6.66" fill="#1ad4e5"/>
<rect x="1400.73" y="393.22" width="6.42" height="6.66" fill="#00bff6"/>
<rect x="1405.64" y="393.22" width="6.42" height="6.66" fill="#00aeeb"/>
<rect x="1410.56" y="393.22" width="6.42" height="6.66" fill="#00aeeb"/>
<rect x="1415.48" y="393.22" width="6.42" height="6.66" fill="#00bff6"/>
<rect x="1420.39" y="393.22" width="6.42" height="6.66" fill="#00bff6"/>
<rect x="1425.31" y="393.22" width="6.42" height="6.66" fill="#009ce1"/>
<rect x="1430.22" y="393.22" width="6.42" height="6.66" fill="#009ce1"/>
<rect x="1435.14" y="393.22" width="6.42" height="6.66" fill="#008bd6"/>
<rect x="1440.05" y="393.22" width="6.42" height="6.66" fill="#008bd6"/>
<rect x="1444.97" y="393.22" width="6.42" height="6.66" fill="#007acc"/>
<rect x="1449.89" y="393.22" width="6.42" height="6.66" fill="#007acc"/>
<rect x="1454.8" y="393.22" width="6.42" height="6.66" fill="#0057b7"/>
<rect x="1459.72" y="393.22" width="6.42" height="6.66" fill="#007acc"/>
<rect x="1464.63" y="393.22" width="6.42" height="6.66" fill="#0057b7"/>
<rect x="1469.55" y="393.22" width="6.42" height="6.66" fill="#0057b7"/>
<rect x="1474.46" y="393.22" width="6.42" height="6.66" fill="#0057b7"/>
<rect x="1479.38" y="393.22" width="6.42" height="6.66" fill="#0068c1"/>
<rect x="1484.29" y="393.22" width="6.42" height="6.66" fill="#0068c1"/>
<rect x="1489.21" y="393.22" width="6.42" height="6.66" fill="#0068c1"/>
<rect x="1494.13" y="393.22" width="6.42" height="6.66" fill="#0068c1"/>
<rect x="1499.04" y="393.22" width="6.42" height="6.66" fill="#0045ac"/>
<rect x="1503.96" y="393.22" width="6.42" height="6.66" fill="#0045ac"/>
<rect x="1508.87" y="393.22" width="6.42" height="6.66" fill="#0045ac"/>
<rect x="1513.79" y="393.22" width="6.42" height="6.66" fill="#0045ac"/>
<rect x="1518.7" y="393.22" width="6.42" height="6.66" fill="#0034a2"/>
<rect x="1523.62" y="393.22" width="6.42" height="6.66" fill="#0034a2"/>
<rect x="1528.53" y="393.22" width="6.42" height="6.66" fill="#00118d"/>
<rect x="1533.45" y="393.22" width="6.42" height="6.66" fill="#0034a2"/>
<rect x="1538.37" y="393.22" width="6.42" height="6.66" fill="#00118d"/>
<rect x="1543.28" y="393.22" width="6.42" height="6.66" fill="#00118d"/>
<rect x="1548.2" y="393.22" width="6.42" height="6.66" fill="#00118d"/>
<rect x="1553.11" y="393.22" width="6.42" height="6.66" fill="#002397"/>
<rect x="1558.03" y="393.22" width="6.42" height="6.66" fill="#00118d"/>
<rect x="1562.94" y="393.22" width="6.42" height="6.66" fill="#31d9cd"/>
<rect x="1435.14" y="388.06" width="6.42" height="6.66" fill="#78e986"/>
<rect x="1459.72" y="388.06" width="6.42" height="6.66" fill="#31d9cd"/>
<rect x="1464.63" y="388.06" width="6.42" height="6.66" fill="#31d9cd"/>
<rect x="1469.55" y="388.06" width="6.42" height="6.66" fill="#1ad4e5"/>
<rect x="1479.38" y="388.06" width="6.42" height="6.66" fill="#31d9cd"/>
<rect x="1484.29" y="388.06" width="6.42" height="6.66" fill="#00aeeb"/>
<rect x="1489.21" y="388.06" width="6.42" height="6.66" fill="#008bd6"/>
<rect x="1494.13" y="388.06" width="6.42" height="6.66" fill="#78e986"/>
<rect x="1499.04" y="388.06" width="6.42" height="6.66" fill="#008bd6"/>
<rect x="1503.96" y="388.06" width="6.42" height="6.66" fill="#02cffd"/>
<rect x="1508.87" y="388.06" width="6.42" height="6.66" fill="#02cffd"/>
<rect x="1513.79" y="388.06" width="6.42" height="6.66" fill="#0057b7"/>
<rect x="1518.7" y="388.06" width="6.42" height="6.66" fill="#0057b7"/>
<rect x="1523.62" y="388.06" width="6.42" height="6.66" fill="#0034a2"/>
<rect x="1528.53" y="388.06" width="6.42" height="6.66" fill="#008bd6"/>
<rect x="1533.45" y="388.06" width="6.42" height="6.66" fill="#0034a2"/>
<rect x="1538.37" y="388.06" width="6.42" height="6.66" fill="#0034a2"/>
<rect x="1543.28" y="388.06" width="6.42" height="6.66" fill="#00118d"/>
<rect x="1548.2" y="388.06" width="6.42" height="6.66" fill="#00118d"/>
<rect x="1553.11" y="388.06" width="6.42" height="6.66" fill="#00118d"/>
<rect x="1558.03" y="388.06" width="6.42" height="6.66" fill="#000082"/>
<rect x="1562.94" y="388.06" width="6.42" height="6.66" fill="#000082"/>
<rect x="1041.89" y="336.42" width="6.42" height="6.66" fill="#e9bc15"/>
<rect x="1046.81" y="336.42" width="6.42" height="6.66" fill="#eda311"/>
<rect x="1061.55" y="336.42" width="6.42" height="6.66" fill="#f22e00"/>
<rect x="1105.79" y="336.42" width="6.42" height="6.66" fill="#8fee6e"/>
<rect x="1120.54" y="336.42" width="6.42" height="6.66" fill="#bef83f"/>
<rect x="1125.46" y="336.42" width="6.42" height="6.66" fill="#78e986"/>
<rect x="1130.37" y="336.42" width="6.42" height="6.66" fill="#1ad4e5"/>
<rect x="1135.29" y="336.42" width="6.42" height="6.66" fill="#31d9cd"/>
<rect x="1041.89" y="331.26" width="6.42" height="6.66" fill="#e1ef1c"/>
<rect x="1046.81" y="331.26" width="6.42" height="6.66" fill="#a7f356"/>
<rect x="1051.72" y="331.26" width="6.42" height="6.66" fill="#a7f356"/>
<rect x="1056.64" y="331.26" width="6.42" height="6.66" fill="#78e986"/>
<rect x="1061.55" y="331.26" width="6.42" height="6.66" fill="#78e986"/>
<rect x="1066.47" y="331.26" width="6.42" height="6.66" fill="#78e986"/>
<rect x="1071.38" y="331.26" width="6.42" height="6.66" fill="#60e49e"/>
<rect x="1076.3" y="331.26" width="6.42" height="6.66" fill="#60e49e"/>
<rect x="1081.22" y="331.26" width="6.42" height="6.66" fill="#60e49e"/>
<rect x="1086.13" y="331.26" width="6.42" height="6.66" fill="#60e49e"/>
<rect x="1091.05" y="331.26" width="6.42" height="6.66" fill="#49deb5"/>
<rect x="1095.96" y="331.26" width="6.42" height="6.66" fill="#78e986"/>
<rect x="1100.88" y="331.26" width="6.42" height="6.66" fill="#49deb5"/>
<rect x="1105.79" y="331.26" width="6.42" height="6.66" fill="#78e986"/>
<rect x="1110.71" y="331.26" width="6.42" height="6.66" fill="#49deb5"/>
<rect x="1115.62" y="331.26" width="6.42" height="6.66" fill="#31d9cd"/>
<rect x="1120.54" y="331.26" width="6.42" height="6.66" fill="#31d9cd"/>
<rect x="1125.46" y="331.26" width="6.42" height="6.66" fill="#02cffd"/>
<rect x="1130.37" y="331.26" width="6.42" height="6.66" fill="#02cffd"/>
<rect x="1135.29" y="331.26" width="6.42" height="6.66" fill="#00aeeb"/>
<rect x="1140.2" y="331.26" width="6.42" height="6.66" fill="#00bff6"/>
<rect x="1150.03" y="331.26" width="6.42" height="6.66" fill="#00aeeb"/>
<rect x="1154.95" y="331.26" width="6.42" height="6.66" fill="#1ad4e5"/>
<rect x="1159.86" y="331.26" width="6.42" height="6.66" fill="#00aeeb"/>
<rect x="1174.61" y="331.26" width="6.42" height="6.66" fill="#02cffd"/>
<rect x="1179.53" y="331.26" width="6.42" height="6.66" fill="#02cffd"/>
<rect x="1184.44" y="331.26" width="6.42" height="6.66" fill="#00aeeb"/>
<rect x="1189.36" y="331.26" width="6.42" height="6.66" fill="#009ce1"/>
<rect x="1194.27" y="331.26" width="6.42" height="6.66" fill="#009ce1"/>
<rect x="1199.19" y="331.26" width="6.42" height="6.66" fill="#02cffd"/>
<rect x="1204.11" y="331.26" width="6.42" height="6.66" fill="#1ad4e5"/>
<rect x="1209.02" y="331.26" width="6.42" height="6.66" fill="#1ad4e5"/>
<rect x="1213.94" y="331.26" width="6.42" height="6.66" fill="#02cffd"/>
<rect x="1218.85" y="331.26" width="6.42" height="6.66" fill="#008bd6"/>
<rect x="1223.77" y="331.26" width="6.42" height="6.66" fill="#009ce1"/>
<rect x="1228.68" y="331.26" width="6.42" height="6.66" fill="#008bd6"/>
<rect x="1233.6" y="331.26" width="6.42" height="6.66" fill="#0057b7"/>
<rect x="1238.51" y="331.26" width="6.42" height="6.66" fill="#008bd6"/>
<rect x="1263.09" y="331.26" width="6.42" height="6.66" fill="#60e49e"/>
<rect x="1272.92" y="331.26" width="6.42" height="6.66" fill="#0057b7"/>
<rect x="1277.84" y="331.26" width="6.42" height="6.66" fill="#002397"/>
<rect x="1282.75" y="331.26" width="6.42" height="6.66" fill="#008bd6"/>
<rect x="1061.55" y="326.09" width="6.42" height="6.66" fill="#f1890d"/>
<rect x="1066.47" y="326.09" width="6.42" height="6.66" fill="#fd3d02"/>
<rect x="1071.38" y="326.09" width="6.42" height="6.66" fill="#a7f356"/>
<rect x="1081.22" y="326.09" width="6.42" height="6.66" fill="#60e49e"/>
<rect x="1086.13" y="326.09" width="6.42" height="6.66" fill="#60e49e"/>
<rect x="1091.05" y="326.09" width="6.42" height="6.66" fill="#60e49e"/>
<rect x="1095.96" y="326.09" width="6.42" height="6.66" fill="#31d9cd"/>
<rect x="1100.88" y="326.09" width="6.42" height="6.66" fill="#49deb5"/>
<rect x="1105.79" y="326.09" width="6.42" height="6.66" fill="#60e49e"/>
<rect x="1110.71" y="326.09" width="6.42" height="6.66" fill="#a7f356"/>
<rect x="1115.62" y="326.09" width="6.42" height="6.66" fill="#8fee6e"/>
<rect x="1120.54" y="326.09" width="6.42" height="6.66" fill="#31d9cd"/>
<rect x="1135.29" y="326.09" width="6.42" height="6.66" fill="#00aeeb"/>
<rect x="1140.2" y="326.09" width="6.42" height="6.66" fill="#00aeeb"/>
<rect x="1145.12" y="326.09" width="6.42" height="6.66" fill="#009ce1"/>
<rect x="1150.03" y="326.09" width="6.42" height="6.66" fill="#00bff6"/>
<rect x="1154.95" y="326.09" width="6.42" height="6.66" fill="#00bff6"/>
<rect x="1159.86" y="326.09" width="6.42" height="6.66" fill="#49deb5"/>
<rect x="1164.78" y="326.09" width="6.42" height="6.66" fill="#02cffd"/>
<rect x="1169.7" y="326.09" width="6.42" height="6.66" fill="#02cffd"/>
<rect x="1174.61" y="326.09" width="6.42" height="6.66" fill="#009ce1"/>
<rect x="1179.53" y="326.09" width="6.42" height="6.66" fill="#009ce1"/>
<rect x="1184.44" y="326.09" width="6.42" height="6.66" fill="#009ce1"/>
<rect x="1189.36" y="326.09" width="6.42" height="6.66" fill="#008bd6"/>
<rect x="1194.27" y="326.09" width="6.42" height="6.66" fill="#008bd6"/>
<rect x="1199.19" y="326.09" width="6.42" height="6.66" fill="#009ce1"/>
<rect x="1204.11" y="326.09" width="6.42" height="6.66" fill="#009ce1"/>
<rect x="1209.02" y="326.09" width="6.42" height="6.66" fill="#009ce1"/>
<rect x="1213.94" y="326.09" width="6.42" height="6.66" fill="#009ce1"/>
<rect x="1218.85" y="326.09" width="6.42" height="6.66" fill="#008bd6"/>
<rect x="1223.77" y="326.09" width="6.42" height="6.66" fill="#007acc"/>
<rect x="1228.68" y="326.09" width="6.42" height="6.66" fill="#007acc"/>
<rect x="1243.43" y="326.09" width="6.42" height="6.66" fill="#0057b7"/>
<rect x="1248.35" y="326.09" width="6.42" height="6.66" fill="#0057b7"/>
<rect x="1253.26" y="326.09" width="6.42" height="6.66" fill="#0057b7"/>
<rect x="1258.18" y="326.09" width="6.42" height="6.66" fill="#0045ac"/>
<rect x="1263.09" y="326.09" width="6.42" height="6.66" fill="#0057b7"/>
<rect x="1268.01" y="326.09" width="6.42" height="6.66" fill="#0034a2"/>
<rect x="1272.92" y="326.09" width="6.42" height="6.66" fill="#002397"/>
<rect x="1277.84" y="326.09" width="6.42" height="6.66" fill="#002397"/>
<rect x="1282.75" y="326.09" width="6.42" height="6.66" fill="#002397"/>
<rect x="1287.67" y="326.09" width="6.42" height="6.66" fill="#00118d"/>
<rect x="1292.59" y="326.09" width="6.42" height="6.66" fill="#00118d"/>
<rect x="1297.5" y="326.09" width="6.42" height="6.66" fill="#0057b7"/>
<rect x="1302.42" y="326.09" width="6.42" height="6.66" fill="#00118d"/>
<rect x="1307.33" y="326.09" width="6.42" height="6.66" fill="#000082"/>
<rect x="1312.25" y="326.09" width="6.42" height="6.66" fill="#002397"/>
<rect x="1135.29" y="320.93" width="6.42" height="6.66" fill="#02cffd"/>
<rect x="1145.12" y="320.93" width="6.42" height="6.66" fill="#008bd6"/>
<rect x="1150.03" y="320.93" width="6.42" height="6.66" fill="#00aeeb"/>
<rect x="1154.95" y="320.93" width="6.42" height="6.66" fill="#31d9cd"/>
<rect x="1189.36" y="320.93" width="6.42" height="6.66" fill="#49deb5"/>
<rect x="1194.27" y="320.93" width="6.42" height="6.66" fill="#02cffd"/>
<rect x="1204.11" y="320.93" width="6.42" height="6.66" fill="#009ce1"/>
<rect x="1150.03" y="315.77" width="6.42" height="6.66" fill="#00aeeb"/>
<rect x="1154.95" y="315.77" width="6.42" height="6.66" fill="#00bff6"/>
<rect x="1159.86" y="315.77" width="6.42" height="6.66" fill="#008bd6"/>
<rect x="1164.78" y="315.77" width="6.42" height="6.66" fill="#008bd6"/>
<rect x="1150.03" y="310.6" width="6.42" height="6.66" fill="#02cffd"/>
<rect x="1154.95" y="310.6" width="6.42" height="6.66" fill="#0068c1"/>
<rect x="1159.86" y="310.6" width="6.42" height="6.66" fill="#008bd6"/>
<rect x="1164.78" y="310.6" width="6.42" height="6.66" fill="#008bd6"/>
<rect x="1169.7" y="310.6" width="6.42" height="6.66" fill="#009ce1"/>
<rect x="1091.05" y="305.44" width="6.42" height="6.66" fill="#bef83f"/>
<rect x="1095.96" y="305.44" width="6.42" height="6.66" fill="#60e49e"/>
<rect x="1100.88" y="305.44" width="6.42" height="6.66" fill="#60e49e"/>
<rect x="1150.03" y="305.44" width="6.42" height="6.66" fill="#0068c1"/>
<rect x="1159.86" y="305.44" width="6.42" height="6.66" fill="#008bd6"/>
<rect x="1081.22" y="300.28" width="6.42" height="6.66" fill="#e9bc15"/>
<rect x="1086.13" y="300.28" width="6.42" height="6.66" fill="#78e986"/>
<rect x="1091.05" y="300.28" width="6.42" height="6.66" fill="#60e49e"/>
<rect x="1095.96" y="300.28" width="6.42" height="6.66" fill="#60e49e"/>
<rect x="1100.88" y="300.28" width="6.42" height="6.66" fill="#60e49e"/>
<rect x="1105.79" y="300.28" width="6.42" height="6.66" fill="#a7f356"/>
<rect x="1110.71" y="300.28" width="6.42" height="6.66" fill="#bef83f"/>
<rect x="1125.46" y="300.28" width="6.42" height="6.66" fill="#e9bc15"/>
<rect x="1150.03" y="300.28" width="6.42" height="6.66" fill="#af1200"/>
<rect x="1159.86" y="300.28" width="6.42" height="6.66" fill="#980900"/>
<rect x="1204.11" y="300.28" width="6.42" height="6.66" fill="#d6fd27"/>
<rect x="1209.02" y="300.28" width="6.42" height="6.66" fill="#02cffd"/>
<rect x="1228.68" y="300.28" width="6.42" height="6.66" fill="#a7f356"/>
<rect x="1243.43" y="300.28" width="6.42" height="6.66" fill="#8fee6e"/>
<rect x="1081.22" y="295.11" width="6.42" height="6.66" fill="#a7f356"/>
<rect x="1086.13" y="295.11" width="6.42" height="6.66" fill="#78e986"/>
<rect x="1091.05" y="295.11" width="6.42" height="6.66" fill="#60e49e"/>
<rect x="1095.96" y="295.11" width="6.42" height="6.66" fill="#31d9cd"/>
<rect x="1100.88" y="295.11" width="6.42" height="6.66" fill="#31d9cd"/>
<rect x="1105.79" y="295.11" width="6.42" height="6.66" fill="#31d9cd"/>
<rect x="1110.71" y="295.11" width="6.42" height="6.66" fill="#31d9cd"/>
<rect x="1115.62" y="295.11" width="6.42" height="6.66" fill="#31d9cd"/>
<rect x="1120.54" y="295.11" width="6.42" height="6.66" fill="#31d9cd"/>
<rect x="1125.46" y="295.11" width="6.42" height="6.66" fill="#49deb5"/>
<rect x="1130.37" y="295.11" width="6.42" height="6.66" fill="#e1ef1c"/>
<rect x="1135.29" y="295.11" width="6.42" height="6.66" fill="#1ad4e5"/>
<rect x="1145.12" y="295.11" width="6.42" height="6.66" fill="#31d9cd"/>
<rect x="1150.03" y="295.11" width="6.42" height="6.66" fill="#31d9cd"/>
<rect x="1154.95" y="295.11" width="6.42" height="6.66" fill="#31d9cd"/>
<rect x="1159.86" y="295.11" width="6.42" height="6.66" fill="#02cffd"/>
<rect x="1164.78" y="295.11" width="6.42" height="6.66" fill="#02cffd"/>
<rect x="1169.7" y="295.11" width="6.42" height="6.66" fill="#02cffd"/>
<rect x="1174.61" y="295.11" width="6.42" height="6.66" fill="#02cffd"/>
<rect x="1179.53" y="295.11" width="6.42" height="6.66" fill="#02cffd"/>
<rect x="1184.44" y="295.11" width="6.42" height="6.66" fill="#02cffd"/>
<rect x="1189.36" y="295.11" width="6.42" height="6.66" fill="#02cffd"/>
<rect x="1194.27" y="295.11" width="6.42" height="6.66" fill="#00aeeb"/>
<rect x="1199.19" y="295.11" width="6.42" height="6.66" fill="#02cffd"/>
<rect x="1204.11" y="295.11" width="6.42" height="6.66" fill="#00aeeb"/>
<rect x="1209.02" y="295.11" width="6.42" height="6.66" fill="#009ce1"/>
<rect x="1213.94" y="295.11" width="6.42" height="6.66" fill="#009ce1"/>
<rect x="1218.85" y="295.11" width="6.42" height="6.66" fill="#00aeeb"/>
<rect x="1223.77" y="295.11" width="6.42" height="6.66" fill="#008bd6"/>
<rect x="1228.68" y="295.11" width="6.42" height="6.66" fill="#00aeeb"/>
<rect x="1233.6" y="295.11" width="6.42" height="6.66" fill="#008bd6"/>
<rect x="1238.51" y="295.11" width="6.42" height="6.66" fill="#008bd6"/>
<rect x="1243.43" y="295.11" width="6.42" height="6.66" fill="#008bd6"/>
<rect x="1248.35" y="295.11" width="6.42" height="6.66" fill="#008bd6"/>
<rect x="1253.26" y="295.11" width="6.42" height="6.66" fill="#00aeeb"/>
<rect x="1258.18" y="295.11" width="6.42" height="6.66" fill="#008bd6"/>
<rect x="1272.92" y="295.11" width="6.42" height="6.66" fill="#007acc"/>
<rect x="1277.84" y="295.11" width="6.42" height="6.66" fill="#0068c1"/>
<rect x="1297.5" y="295.11" width="6.42" height="6.66" fill="#e5d518"/>
<rect x="1091.05" y="289.95" width="6.42" height="6.66" fill="#78e986"/>
<rect x="1095.96" y="289.95" width="6.42" height="6.66" fill="#78e986"/>
<rect x="1100.88" y="289.95" width="6.42" height="6.66" fill="#78e986"/>
<rect x="1105.79" y="289.95" width="6.42" height="6.66" fill="#8fee6e"/>
<rect x="1110.71" y="289.95" width="6.42" height="6.66" fill="#78e986"/>
<rect x="1115.62" y="289.95" width="6.42" height="6.66" fill="#60e49e"/>
<rect x="1120.54" y="289.95" width="6.42" height="6.66" fill="#78e986"/>
<rect x="1125.46" y="289.95" width="6.42" height="6.66" fill="#60e49e"/>
<rect x="1130.37" y="289.95" width="6.42" height="6.66" fill="#49deb5"/>
<rect x="1135.29" y="289.95" width="6.42" height="6.66" fill="#49deb5"/>
<rect x="1140.2" y="289.95" width="6.42" height="6.66" fill="#60e49e"/>
<rect x="1150.03" y="289.95" width="6.42" height="6.66" fill="#49deb5"/>
<rect x="1154.95" y="289.95" width="6.42" height="6.66" fill="#60e49e"/>
<rect x="1159.86" y="289.95" width="6.42" height="6.66" fill="#1ad4e5"/>
<rect x="1164.78" y="289.95" width="6.42" height="6.66" fill="#1ad4e5"/>
<rect x="1169.7" y="289.95" width="6.42" height="6.66" fill="#02cffd"/>
<rect x="1174.61" y="289.95" width="6.42" height="6.66" fill="#1ad4e5"/>
<rect x="1179.53" y="289.95" width="6.42" height="6.66" fill="#02cffd"/>
<rect x="1184.44" y="289.95" width="6.42" height="6.66" fill="#00bff6"/>
<rect x="1189.36" y="289.95" width="6.42" height="6.66" fill="#02cffd"/>
<rect x="1194.27" y="289.95" width="6.42" height="6.66" fill="#00bff6"/>
<rect x="1199.19" y="289.95" width="6.42" height="6.66" fill="#00bff6"/>
<rect x="1204.11" y="289.95" width="6.42" height="6.66" fill="#00aeeb"/>
<rect x="1209.02" y="289.95" width="6.42" height="6.66" fill="#009ce1"/>
<rect x="1213.94" y="289.95" width="6.42" height="6.66" fill="#009ce1"/>
<rect x="1218.85" y="289.95" width="6.42" height="6.66" fill="#00aeeb"/>
<rect x="1223.77" y="289.95" width="6.42" height="6.66" fill="#009ce1"/>
<rect x="1228.68" y="289.95" width="6.42" height="6.66" fill="#009ce1"/>
<rect x="1233.6" y="289.95" width="6.42" height="6.66" fill="#60e49e"/>
<rect x="1238.51" y="289.95" width="6.42" height="6.66" fill="#008bd6"/>
<rect x="1243.43" y="289.95" width="6.42" height="6.66" fill="#008bd6"/>
<rect x="1248.35" y="289.95" width="6.42" height="6.66" fill="#0068c1"/>
<rect x="1253.26" y="289.95" width="6.42" height="6.66" fill="#0057b7"/>
<rect x="1258.18" y="289.95" width="6.42" height="6.66" fill="#00bff6"/>
<rect x="1263.09" y="289.95" width="6.42" height="6.66" fill="#0068c1"/>
<rect x="1268.01" y="289.95" width="6.42" height="6.66" fill="#0068c1"/>
<rect x="1272.92" y="289.95" width="6.42" height="6.66" fill="#007acc"/>
<rect x="1277.84" y="289.95" width="6.42" height="6.66" fill="#0068c1"/>
<rect x="1282.75" y="289.95" width="6.42" height="6.66" fill="#0045ac"/>
<rect x="1287.67" y="289.95" width="6.42" height="6.66" fill="#0045ac"/>
<rect x="1292.59" y="289.95" width="6.42" height="6.66" fill="#0045ac"/>
<rect x="1297.5" y="289.95" width="6.42" height="6.66" fill="#0034a2"/>
<rect x="1302.42" y="289.95" width="6.42" height="6.66" fill="#0034a2"/>
<rect x="1307.33" y="289.95" width="6.42" height="6.66" fill="#0045ac"/>
<rect x="1312.25" y="289.95" width="6.42" height="6.66" fill="#0045ac"/>
<rect x="1317.16" y="289.95" width="6.42" height="6.66" fill="#008bd6"/>
<rect x="1322.08" y="289.95" width="6.42" height="6.66" fill="#00118d"/>
<rect x="1327" y="289.95" width="6.42" height="6.66" fill="#00118d"/>
<rect x="1331.91" y="289.95" width="6.42" height="6.66" fill="#0045ac"/>
<rect x="1336.83" y="289.95" width="6.42" height="6.66" fill="#00118d"/>
<rect x="1341.74" y="289.95" width="6.42" height="6.66" fill="#00118d"/>
<rect x="1346.66" y="289.95" width="6.42" height="6.66" fill="#000082"/>
<rect x="1258.18" y="284.79" width="6.42" height="6.66" fill="#00bff6"/>
<rect x="1263.09" y="284.79" width="6.42" height="6.66" fill="#0068c1"/>
<rect x="1268.01" y="284.79" width="6.42" height="6.66" fill="#0068c1"/>
<rect x="1282.75" y="284.79" width="6.42" height="6.66" fill="#0057b7"/>
<rect x="1287.67" y="284.79" width="6.42" height="6.66" fill="#0068c1"/>
<rect x="1292.59" y="284.79" width="6.42" height="6.66" fill="#009ce1"/>
<rect x="1297.5" y="284.79" width="6.42" height="6.66" fill="#0057b7"/>
<rect x="1302.42" y="284.79" width="6.42" height="6.66" fill="#0057b7"/>
<rect x="1327" y="284.79" width="6.42" height="6.66" fill="#002397"/>
<rect x="1331.91" y="284.79" width="6.42" height="6.66" fill="#0045ac"/>
<rect x="1238.51" y="222.82" width="6.42" height="6.66" fill="#f1890d"/>
<rect x="1248.35" y="222.82" width="6.42" height="6.66" fill="#eda311"/>
<rect x="1263.09" y="222.82" width="6.42" height="6.66" fill="#e5d518"/>
<rect x="1268.01" y="222.82" width="6.42" height="6.66" fill="#a7f356"/>
<rect x="1272.92" y="222.82" width="6.42" height="6.66" fill="#e9bc15"/>
<rect x="1277.84" y="222.82" width="6.42" height="6.66" fill="#e5d518"/>
<rect x="1218.85" y="217.66" width="6.42" height="6.66" fill="#bef83f"/>
<rect x="1223.77" y="217.66" width="6.42" height="6.66" fill="#8fee6e"/>
<rect x="1228.68" y="217.66" width="6.42" height="6.66" fill="#8fee6e"/>
<rect x="1233.6" y="217.66" width="6.42" height="6.66" fill="#8fee6e"/>
<rect x="1238.51" y="217.66" width="6.42" height="6.66" fill="#8fee6e"/>
<rect x="1243.43" y="217.66" width="6.42" height="6.66" fill="#78e986"/>
<rect x="1248.35" y="217.66" width="6.42" height="6.66" fill="#78e986"/>
<rect x="1253.26" y="217.66" width="6.42" height="6.66" fill="#78e986"/>
<rect x="1258.18" y="217.66" width="6.42" height="6.66" fill="#78e986"/>
<rect x="1263.09" y="217.66" width="6.42" height="6.66" fill="#60e49e"/>
<rect x="1268.01" y="217.66" width="6.42" height="6.66" fill="#60e49e"/>
<rect x="1272.92" y="217.66" width="6.42" height="6.66" fill="#60e49e"/>
<rect x="1277.84" y="217.66" width="6.42" height="6.66" fill="#60e49e"/>
<rect x="1282.75" y="217.66" width="6.42" height="6.66" fill="#60e49e"/>
<rect x="1287.67" y="217.66" width="6.42" height="6.66" fill="#49deb5"/>
<rect x="1292.59" y="217.66" width="6.42" height="6.66" fill="#31d9cd"/>
<rect x="1297.5" y="217.66" width="6.42" height="6.66" fill="#49deb5"/>
<rect x="1302.42" y="217.66" width="6.42" height="6.66" fill="#8fee6e"/>
<rect x="1307.33" y="217.66" width="6.42" height="6.66" fill="#49deb5"/>
<rect x="1312.25" y="217.66" width="6.42" height="6.66" fill="#02cffd"/>
<rect x="1317.16" y="217.66" width="6.42" height="6.66" fill="#02cffd"/>
<rect x="1322.08" y="217.66" width="6.42" height="6.66" fill="#1ad4e5"/>
<rect x="1327" y="217.66" width="6.42" height="6.66" fill="#31d9cd"/>
<rect x="1331.91" y="217.66" width="6.42" height="6.66" fill="#02cffd"/>
<rect x="1336.83" y="217.66" width="6.42" height="6.66" fill="#02cffd"/>
<rect x="1341.74" y="217.66" width="6.42" height="6.66" fill="#00bff6"/>
<rect x="1346.66" y="217.66" width="6.42" height="6.66" fill="#1ad4e5"/>
<rect x="1351.57" y="217.66" width="6.42" height="6.66" fill="#bef83f"/>
<rect x="1356.49" y="217.66" width="6.42" height="6.66" fill="#bef83f"/>
<rect x="1361.4" y="217.66" width="6.42" height="6.66" fill="#78e986"/>
<rect x="1376.15" y="217.66" width="6.42" height="6.66" fill="#a7f356"/>
<rect x="1381.07" y="217.66" width="6.42" height="6.66" fill="#49deb5"/>
<rect x="1218.85" y="212.5" width="6.42" height="6.66" fill="#f1890d"/>
<rect x="1223.77" y="212.5" width="6.42" height="6.66" fill="#e5d518"/>
<rect x="1228.68" y="212.5" width="6.42" height="6.66" fill="#e9bc15"/>
<rect x="1233.6" y="212.5" width="6.42" height="6.66" fill="#a7f356"/>
<rect x="1238.51" y="212.5" width="6.42" height="6.66" fill="#e5d518"/>
<rect x="1243.43" y="212.5" width="6.42" height="6.66" fill="#d6fd27"/>
<rect x="1253.26" y="212.5" width="6.42" height="6.66" fill="#a7f356"/>
<rect x="1258.18" y="212.5" width="6.42" height="6.66" fill="#8fee6e"/>
<rect x="1268.01" y="212.5" width="6.42" height="6.66" fill="#49deb5"/>
<rect x="1277.84" y="212.5" width="6.42" height="6.66" fill="#78e986"/>
<rect x="1287.67" y="212.5" width="6.42" height="6.66" fill="#60e49e"/>
<rect x="1292.59" y="212.5" width="6.42" height="6.66" fill="#49deb5"/>
<rect x="1297.5" y="212.5" width="6.42" height="6.66" fill="#1ad4e5"/>
<rect x="1302.42" y="212.5" width="6.42" height="6.66" fill="#1ad4e5"/>
<rect x="1307.33" y="212.5" width="6.42" height="6.66" fill="#02cffd"/>
<rect x="1312.25" y="212.5" width="6.42" height="6.66" fill="#02cffd"/>
<rect x="1317.16" y="212.5" width="6.42" height="6.66" fill="#02cffd"/>
<rect x="1322.08" y="212.5" width="6.42" height="6.66" fill="#02cffd"/>
<rect x="1327" y="212.5" width="6.42" height="6.66" fill="#00aeeb"/>
<rect x="1331.91" y="212.5" width="6.42" height="6.66" fill="#00bff6"/>
<rect x="1336.83" y="212.5" width="6.42" height="6.66" fill="#00aeeb"/>
<rect x="1341.74" y="212.5" width="6.42" height="6.66" fill="#00aeeb"/>
<rect x="1346.66" y="212.5" width="6.42" height="6.66" fill="#00bff6"/>
<rect x="1351.57" y="212.5" width="6.42" height="6.66" fill="#02cffd"/>
<rect x="1356.49" y="212.5" width="6.42" height="6.66" fill="#009ce1"/>
<rect x="1361.4" y="212.5" width="6.42" height="6.66" fill="#009ce1"/>
<rect x="1366.32" y="212.5" width="6.42" height="6.66" fill="#009ce1"/>
<rect x="1371.24" y="212.5" width="6.42" height="6.66" fill="#009ce1"/>
<rect x="1376.15" y="212.5" width="6.42" height="6.66" fill="#008bd6"/>
<rect x="1381.07" y="212.5" width="6.42" height="6.66" fill="#0068c1"/>
<rect x="1385.98" y="212.5" width="6.42" height="6.66" fill="#007acc"/>
<rect x="1390.9" y="212.5" width="6.42" height="6.66" fill="#008bd6"/>
<rect x="1395.81" y="212.5" width="6.42" height="6.66" fill="#008bd6"/>
<rect x="1400.73" y="212.5" width="6.42" height="6.66" fill="#0068c1"/>
<rect x="1405.64" y="212.5" width="6.42" height="6.66" fill="#0057b7"/>
<rect x="1410.56" y="212.5" width="6.42" height="6.66" fill="#0068c1"/>
<rect x="1415.48" y="212.5" width="6.42" height="6.66" fill="#0068c1"/>
<rect x="1420.39" y="212.5" width="6.42" height="6.66" fill="#0068c1"/>
<rect x="1425.31" y="212.5" width="6.42" height="6.66" fill="#0045ac"/>
<rect x="1430.22" y="212.5" width="6.42" height="6.66" fill="#0057b7"/>
<rect x="1435.14" y="212.5" width="6.42" height="6.66" fill="#0045ac"/>
<rect x="1440.05" y="212.5" width="6.42" height="6.66" fill="#0068c1"/>
<rect x="1444.97" y="212.5" width="6.42" height="6.66" fill="#0034a2"/>
<rect x="1449.89" y="212.5" width="6.42" height="6.66" fill="#0034a2"/>
<rect x="1454.8" y="212.5" width="6.42" height="6.66" fill="#0034a2"/>
<rect x="1459.72" y="212.5" width="6.42" height="6.66" fill="#0034a2"/>
<rect x="1464.63" y="212.5" width="6.42" height="6.66" fill="#002397"/>
<rect x="1469.55" y="212.5" width="6.42" height="6.66" fill="#00118d"/>
<rect x="1474.46" y="212.5" width="6.42" height="6.66" fill="#00118d"/>
<rect x="1479.38" y="212.5" width="6.42" height="6.66" fill="#000082"/>
<rect x="1484.29" y="212.5" width="6.42" height="6.66" fill="#008bd6"/>
<rect x="1302.42" y="207.33" width="6.42" height="6.66" fill="#e5d518"/>
<rect x="1312.25" y="207.33" width="6.42" height="6.66" fill="#a7f356"/>
<rect x="1400.73" y="207.33" width="6.42" height="6.66" fill="#31d9cd"/>
<rect x="1405.64" y="207.33" width="6.42" height="6.66" fill="#31d9cd"/>
<rect x="1435.14" y="207.33" width="6.42" height="6.66" fill="#78e986"/>
<rect x="1440.05" y="207.33" width="6.42" height="6.66" fill="#0068c1"/>
<rect x="1444.97" y="207.33" width="6.42" height="6.66" fill="#0045ac"/>
<rect x="1459.72" y="207.33" width="6.42" height="6.66" fill="#0057b7"/>
<rect x="1464.63" y="207.33" width="6.42" height="6.66" fill="#00aeeb"/>
<rect x="1154.95" y="145.37" width="6.42" height="6.66" fill="#f22e00"/>
<rect x="1159.86" y="145.37" width="6.42" height="6.66" fill="#a7f356"/>
<rect x="1164.78" y="145.37" width="6.42" height="6.66" fill="#a7f356"/>
<rect x="1169.7" y="145.37" width="6.42" height="6.66" fill="#8fee6e"/>
<rect x="1174.61" y="145.37" width="6.42" height="6.66" fill="#a7f356"/>
<rect x="1179.53" y="145.37" width="6.42" height="6.66" fill="#8fee6e"/>
<rect x="1184.44" y="145.37" width="6.42" height="6.66" fill="#78e986"/>
<rect x="1189.36" y="145.37" width="6.42" height="6.66" fill="#78e986"/>
<rect x="1194.27" y="145.37" width="6.42" height="6.66" fill="#8fee6e"/>
<rect x="1199.19" y="145.37" width="6.42" height="6.66" fill="#e1ef1c"/>
<rect x="1204.11" y="145.37" width="6.42" height="6.66" fill="#78e986"/>
<rect x="1209.02" y="145.37" width="6.42" height="6.66" fill="#78e986"/>
<rect x="1213.94" y="145.37" width="6.42" height="6.66" fill="#49deb5"/>
<rect x="1218.85" y="145.37" width="6.42" height="6.66" fill="#78e986"/>
<rect x="1223.77" y="145.37" width="6.42" height="6.66" fill="#49deb5"/>
<rect x="1228.68" y="145.37" width="6.42" height="6.66" fill="#a7f356"/>
<rect x="1253.26" y="145.37" width="6.42" height="6.66" fill="#8fee6e"/>
<rect x="1258.18" y="145.37" width="6.42" height="6.66" fill="#31d9cd"/>
<rect x="1263.09" y="145.37" width="6.42" height="6.66" fill="#02cffd"/>
<rect x="1268.01" y="145.37" width="6.42" height="6.66" fill="#a7f356"/>
<rect x="1336.83" y="145.37" width="6.42" height="6.66" fill="#00bff6"/>
<rect x="1341.74" y="145.37" width="6.42" height="6.66" fill="#00bff6"/>
<rect x="1154.95" y="140.21" width="6.42" height="6.66" fill="#eda311"/>
<rect x="1159.86" y="140.21" width="6.42" height="6.66" fill="#78e986"/>
<rect x="1164.78" y="140.21" width="6.42" height="6.66" fill="#78e986"/>
<rect x="1169.7" y="140.21" width="6.42" height="6.66" fill="#60e49e"/>
<rect x="1174.61" y="140.21" width="6.42" height="6.66" fill="#78e986"/>
<rect x="1179.53" y="140.21" width="6.42" height="6.66" fill="#78e986"/>
<rect x="1184.44" y="140.21" width="6.42" height="6.66" fill="#78e986"/>
<rect x="1189.36" y="140.21" width="6.42" height="6.66" fill="#78e986"/>
<rect x="1194.27" y="140.21" width="6.42" height="6.66" fill="#31d9cd"/>
<rect x="1199.19" y="140.21" width="6.42" height="6.66" fill="#60e49e"/>
<rect x="1204.11" y="140.21" width="6.42" height="6.66" fill="#31d9cd"/>
<rect x="1209.02" y="140.21" width="6.42" height="6.66" fill="#31d9cd"/>
<rect x="1213.94" y="140.21" width="6.42" height="6.66" fill="#31d9cd"/>
<rect x="1218.85" y="140.21" width="6.42" height="6.66" fill="#31d9cd"/>
<rect x="1223.77" y="140.21" width="6.42" height="6.66" fill="#1ad4e5"/>
<rect x="1228.68" y="140.21" width="6.42" height="6.66" fill="#1ad4e5"/>
<rect x="1233.6" y="140.21" width="6.42" height="6.66" fill="#1ad4e5"/>
<rect x="1238.51" y="140.21" width="6.42" height="6.66" fill="#1ad4e5"/>
<rect x="1243.43" y="140.21" width="6.42" height="6.66" fill="#1ad4e5"/>
<rect x="1248.35" y="140.21" width="6.42" height="6.66" fill="#02cffd"/>
<rect x="1253.26" y="140.21" width="6.42" height="6.66" fill="#02cffd"/>
<rect x="1258.18" y="140.21" width="6.42" height="6.66" fill="#02cffd"/>
<rect x="1263.09" y="140.21" width="6.42" height="6.66" fill="#00bff6"/>
<rect x="1268.01" y="140.21" width="6.42" height="6.66" fill="#00bff6"/>
<rect x="1272.92" y="140.21" width="6.42" height="6.66" fill="#02cffd"/>
<rect x="1277.84" y="140.21" width="6.42" height="6.66" fill="#00bff6"/>
<rect x="1282.75" y="140.21" width="6.42" height="6.66" fill="#00bff6"/>
<rect x="1287.67" y="140.21" width="6.42" height="6.66" fill="#02cffd"/>
<rect x="1292.59" y="140.21" width="6.42" height="6.66" fill="#02cffd"/>
<rect x="1297.5" y="140.21" width="6.42" height="6.66" fill="#00aeeb"/>
<rect x="1302.42" y="140.21" width="6.42" height="6.66" fill="#009ce1"/>
<rect x="1307.33" y="140.21" width="6.42" height="6.66" fill="#009ce1"/>
<rect x="1312.25" y="140.21" width="6.42" height="6.66" fill="#008bd6"/>
<rect x="1317.16" y="140.21" width="6.42" height="6.66" fill="#008bd6"/>
<rect x="1322.08" y="140.21" width="6.42" height="6.66" fill="#008bd6"/>
<rect x="1327" y="140.21" width="6.42" height="6.66" fill="#007acc"/>
<rect x="1331.91" y="140.21" width="6.42" height="6.66" fill="#007acc"/>
<rect x="1336.83" y="140.21" width="6.42" height="6.66" fill="#0045ac"/>
<rect x="1341.74" y="140.21" width="6.42" height="6.66" fill="#0045ac"/>
<rect x="1346.66" y="140.21" width="6.42" height="6.66" fill="#0057b7"/>
<rect x="1351.57" y="140.21" width="6.42" height="6.66" fill="#0057b7"/>
<rect x="1356.49" y="140.21" width="6.42" height="6.66" fill="#0057b7"/>
<rect x="1361.4" y="140.21" width="6.42" height="6.66" fill="#0057b7"/>
<rect x="1366.32" y="140.21" width="6.42" height="6.66" fill="#0057b7"/>
<rect x="1371.24" y="140.21" width="6.42" height="6.66" fill="#0068c1"/>
<rect x="1376.15" y="140.21" width="6.42" height="6.66" fill="#0034a2"/>
<rect x="1381.07" y="140.21" width="6.42" height="6.66" fill="#002397"/>
<rect x="1385.98" y="140.21" width="6.42" height="6.66" fill="#0034a2"/>
<rect x="1390.9" y="140.21" width="6.42" height="6.66" fill="#002397"/>
<rect x="1395.81" y="140.21" width="6.42" height="6.66" fill="#002397"/>
<rect x="1400.73" y="140.21" width="6.42" height="6.66" fill="#002397"/>
<rect x="1405.64" y="140.21" width="6.42" height="6.66" fill="#00118d"/>
<rect x="1410.56" y="140.21" width="6.42" height="6.66" fill="#00118d"/>
<rect x="1415.48" y="140.21" width="6.42" height="6.66" fill="#002397"/>
<rect x="1164.78" y="135.04" width="6.42" height="6.66" fill="#f57009"/>
<rect x="1169.7" y="135.04" width="6.42" height="6.66" fill="#d6fd27"/>
<rect x="1184.44" y="135.04" width="6.42" height="6.66" fill="#a7f356"/>
<rect x="1194.27" y="135.04" width="6.42" height="6.66" fill="#a7f356"/>
<rect x="1213.94" y="135.04" width="6.42" height="6.66" fill="#e1ef1c"/>
<rect x="1223.77" y="135.04" width="6.42" height="6.66" fill="#8fee6e"/>
<rect x="1228.68" y="135.04" width="6.42" height="6.66" fill="#e5d518"/>
<rect x="1233.6" y="135.04" width="6.42" height="6.66" fill="#bef83f"/>
<rect x="1238.51" y="135.04" width="6.42" height="6.66" fill="#78e986"/>
<rect x="1243.43" y="135.04" width="6.42" height="6.66" fill="#31d9cd"/>
<rect x="1248.35" y="135.04" width="6.42" height="6.66" fill="#60e49e"/>
<rect x="1253.26" y="135.04" width="6.42" height="6.66" fill="#31d9cd"/>
<rect x="1258.18" y="135.04" width="6.42" height="6.66" fill="#31d9cd"/>
<rect x="1263.09" y="135.04" width="6.42" height="6.66" fill="#49deb5"/>
<rect x="1268.01" y="135.04" width="6.42" height="6.66" fill="#00bff6"/>
<rect x="1272.92" y="135.04" width="6.42" height="6.66" fill="#00bff6"/>
<rect x="1277.84" y="135.04" width="6.42" height="6.66" fill="#00bff6"/>
<rect x="1282.75" y="135.04" width="6.42" height="6.66" fill="#00bff6"/>
<rect x="1287.67" y="135.04" width="6.42" height="6.66" fill="#00aeeb"/>
<rect x="1292.59" y="135.04" width="6.42" height="6.66" fill="#00aeeb"/>
<rect x="1297.5" y="135.04" width="6.42" height="6.66" fill="#009ce1"/>
<rect x="1302.42" y="135.04" width="6.42" height="6.66" fill="#009ce1"/>
<rect x="1307.33" y="135.04" width="6.42" height="6.66" fill="#009ce1"/>
<rect x="1312.25" y="135.04" width="6.42" height="6.66" fill="#009ce1"/>
<rect x="1317.16" y="135.04" width="6.42" height="6.66" fill="#00aeeb"/>
<rect x="1322.08" y="135.04" width="6.42" height="6.66" fill="#1ad4e5"/>
<rect x="1327" y="135.04" width="6.42" height="6.66" fill="#49deb5"/>
<rect x="1331.91" y="135.04" width="6.42" height="6.66" fill="#00aeeb"/>
<rect x="1336.83" y="135.04" width="6.42" height="6.66" fill="#00aeeb"/>
<rect x="1341.74" y="135.04" width="6.42" height="6.66" fill="#00bff6"/>
<rect x="1356.49" y="135.04" width="6.42" height="6.66" fill="#49deb5"/>
<rect x="1361.4" y="135.04" width="6.42" height="6.66" fill="#00bff6"/>
<rect x="1381.07" y="135.04" width="6.42" height="6.66" fill="#0057b7"/>
<rect x="1385.98" y="135.04" width="6.42" height="6.66" fill="#0057b7"/>
<rect x="1395.81" y="135.04" width="6.42" height="6.66" fill="#007acc"/>
<rect x="1400.73" y="135.04" width="6.42" height="6.66" fill="#0057b7"/>
<rect x="1405.64" y="135.04" width="6.42" height="6.66" fill="#002397"/>
<rect x="1410.56" y="135.04" width="6.42" height="6.66" fill="#0045ac"/>
<rect x="1415.48" y="135.04" width="6.42" height="6.66" fill="#00118d"/>
<rect x="1420.39" y="135.04" width="6.42" height="6.66" fill="#0057b7"/>
<rect x="1268.01" y="129.88" width="6.42" height="6.66" fill="#8fee6e"/>
<rect x="1282.75" y="129.88" width="6.42" height="6.66" fill="#d6fd27"/>
<rect x="1287.67" y="129.88" width="6.42" height="6.66" fill="#31d9cd"/>
<rect x="1292.59" y="129.88" width="6.42" height="6.66" fill="#00aeeb"/>
<rect x="1297.5" y="129.88" width="6.42" height="6.66" fill="#31d9cd"/>
</g>
<defs><linearGradient id="glin" x1="0" y1="0" x2="0" y2="1"><stop offset="0" stop-color="#820000"/><stop offset="0.16" stop-color="#ff3300"/><stop offset="0.39" stop-color="#deff1f"/><stop offset="0.66" stop-color="#00cfff"/><stop offset="1" stop-color="#000082"/></linearGradient></defs>
<rect x="1631.3" y="73" width="42.6" height="662.45" fill="url(#glin)"/>
<path d="M1672.45 73V735.45" stroke="#000" stroke-width="2.9"/>
<text transform="translate(1675.9 744.4) scale(1 1.05)" font-size="26.3" letter-spacing="0.4">0</text>
<text transform="translate(1675.9 613.05) scale(1 1.05)" font-size="26.3" letter-spacing="0.4">100</text>
<text transform="translate(1675.9 481.7) scale(1 1.05)" font-size="26.3" letter-spacing="0.4">200</text>
<text transform="translate(1675.9 350.35) scale(1 1.05)" font-size="26.3" letter-spacing="0.4">300</text>
<text transform="translate(1675.9 219) scale(1 1.05)" font-size="26.3" letter-spacing="0.4">400</text>
<text transform="translate(1675.9 87.65) scale(1 1.05)" font-size="26.3" letter-spacing="0.4">500</text>
<path d="M1672.45 734.8h-21.5M1672.45 603.45h-21.5M1672.45 472.1h-21.5M1672.45 340.75h-21.5M1672.45 209.4h-21.5M1672.45 78.05h-21.5" stroke="#000" stroke-width="2.2" fill="none"/>
<rect x="998.5" y="73.6" width="629.1" height="660.85" fill="none" stroke="#000" stroke-width="2.75"/>
<path d="M998.5 72.22V735.83" fill="none" stroke="#000" stroke-width="3.0"/>
<path d="M1000.35 734.45v-17.7M998 731.55h21.5M1049.56 734.45v-8.65M998 679.97h10.7M1098.77 734.45v-8.65M998 628.4h10.7M1147.98 734.45v-8.65M998 576.82h10.7M1197.19 734.45v-8.65M998 525.25h10.7M1246.4 734.45v-17.7M998 473.67h21.5M1295.61 734.45v-8.65M998 422.1h10.7M1344.82 734.45v-8.65M998 370.52h10.7M1394.03 734.45v-8.65M998 318.95h10.7M1443.24 734.45v-8.65M998 267.38h10.7M1492.45 734.45v-17.7M998 215.8h21.5M1541.66 734.45v-8.65M998 164.23h10.7M1590.87 734.45v-8.65M998 112.65h10.7" stroke="#000" stroke-width="2.9" fill="none"/>
<text transform="translate(1001.3 771.2) scale(1 1.05)" font-size="38" text-anchor="middle" letter-spacing="0.7">0</text>
<text transform="translate(993.7 746.45) scale(1 1.05)" font-size="38" text-anchor="end" letter-spacing="0.7">0</text>
<text transform="translate(1246.05 771.2) scale(1 1.05)" font-size="38" text-anchor="middle" letter-spacing="0.7">50</text>
<text transform="translate(993.7 488.57) scale(1 1.05)" font-size="38" text-anchor="end" letter-spacing="0.7">50</text>
<text transform="translate(1491.3 771.2) scale(1 1.05)" font-size="38" text-anchor="middle" letter-spacing="0.7">100</text>
<text transform="translate(993.7 230.7) scale(1 1.05)" font-size="38" text-anchor="end" letter-spacing="0.7">100</text>
<text x="1626.4" y="816.8" font-size="39" text-anchor="end" class="b">Pixel No. X</text>
<text transform="translate(27.8 256.7) rotate(-90)" font-size="39" class="b">Pixel No.Y</text>
<text transform="translate(925.2 267.2) rotate(-90)" font-size="39" class="b">Pixel No. Y</text>
<text x="443.9" y="30" font-size="42.1" text-anchor="middle" class="b">Energy [keV]</text>
<text x="1252.6" y="30" font-size="42.3" letter-spacing="-0.75" class="b"><tspan font-size="39" stroke-width="0.2">Δ</tspan><tspan x="1278">ToA [ns]</tspan></text>
</svg>
</body>
</html>
